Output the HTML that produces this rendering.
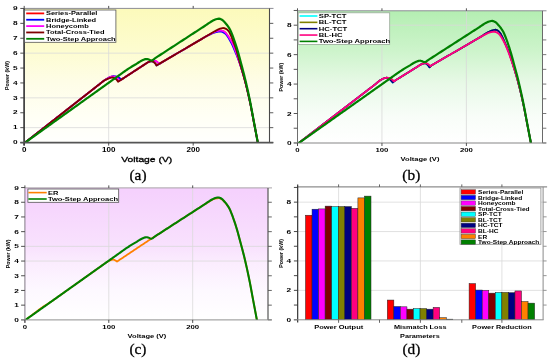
<!DOCTYPE html>
<html><head><meta charset="utf-8"><title>PV array configurations</title>
<style>html,body{margin:0;padding:0;background:#fff;width:550px;height:362px;overflow:hidden}svg{display:block;filter:blur(0.3px)}</style>
</head><body>
<svg width="550" height="362" viewBox="0 0 550 362"><defs><linearGradient id="ga" x1="0" y1="0" x2="0" y2="1"><stop offset="0" stop-color="#fcfabb"/><stop offset="0.3" stop-color="#fdfccf"/><stop offset="0.55" stop-color="#fefde7"/><stop offset="0.8" stop-color="#fffff5"/><stop offset="1" stop-color="#fffffd"/></linearGradient><clipPath id="cpa"><rect x="24.1" y="8.4" width="245.4" height="134.2"/></clipPath><linearGradient id="gb" x1="0" y1="0" x2="0" y2="1"><stop offset="0" stop-color="#b4eeb2"/><stop offset="0.3" stop-color="#cdf4cb"/><stop offset="0.55" stop-color="#e8f9e7"/><stop offset="0.8" stop-color="#f8fdf8"/><stop offset="1" stop-color="#ffffff"/></linearGradient><clipPath id="cpb"><rect x="297.5" y="10.8" width="245" height="132.2"/></clipPath><linearGradient id="gc" x1="0" y1="0" x2="0" y2="1"><stop offset="0" stop-color="#f5d0fd"/><stop offset="0.44" stop-color="#f8e1fd"/><stop offset="0.56" stop-color="#fbecfe"/><stop offset="0.77" stop-color="#fdf8ff"/><stop offset="1" stop-color="#ffffff"/></linearGradient><clipPath id="cpc"><rect x="24.9" y="187.9" width="243.1" height="132"/></clipPath><clipPath id="cpd"><rect x="297.7" y="186.9" width="245.4" height="132.9"/></clipPath></defs><rect width="550" height="362" fill="#ffffff"/><rect x="24.1" y="8.4" width="245.4" height="134.2" fill="url(#ga)"/>
<line x1="108.7" y1="8.4" x2="108.7" y2="142.6" stroke="#d9d9d9" stroke-width="0.8"/>
<line x1="24.1" y1="127.65" x2="269.5" y2="127.65" stroke="#d9d9d9" stroke-width="0.8"/>
<line x1="24.1" y1="97.85" x2="269.5" y2="97.85" stroke="#d9d9d9" stroke-width="0.8"/>
<line x1="24.1" y1="53.15" x2="269.5" y2="53.15" stroke="#d9d9d9" stroke-width="0.8"/>
<path d="M24.2,143.25 L25.3,142.38 L26.41,141.52 L27.51,140.65 L28.61,139.79 L29.72,138.92 L30.82,138.06 L31.92,137.19 L33.03,136.32 L34.13,135.46 L35.23,134.59 L36.34,133.73 L37.44,132.86 L38.54,132 L39.64,131.13 L40.75,130.27 L41.85,129.4 L42.95,128.53 L44.06,127.67 L45.16,126.8 L46.26,125.94 L47.37,125.07 L48.47,124.21 L49.57,123.34 L50.68,122.47 L51.78,121.61 L52.88,120.74 L53.99,119.88 L55.09,119.01 L56.19,118.15 L57.3,117.28 L58.4,116.41 L59.5,115.55 L60.61,114.68 L61.71,113.82 L62.81,112.95 L63.91,112.09 L65.02,111.22 L66.12,110.36 L67.22,109.49 L68.33,108.62 L69.43,107.76 L70.53,106.89 L71.64,106.03 L72.74,105.16 L73.84,104.3 L74.95,103.43 L76.05,102.56 L77.15,101.7 L78.26,100.83 L79.36,99.97 L80.46,99.1 L81.57,98.24 L82.67,97.37 L83.77,96.5 L84.88,95.64 L85.98,94.77 L87.08,93.91 L88.19,93.04 L89.29,92.18 L90.39,91.31 L91.49,90.45 L92.6,89.58 L93.7,88.71 L94.8,87.85 L95.91,86.98 L97.01,86.12 L98.11,85.25 L99.22,84.39 L100.32,83.52 L101.42,82.64 L102.53,81.75 L103.63,80.92 L104.47,80.34 L105.32,79.77 L106.17,79.24 L107.01,78.73 L107.86,78.25 L108.7,77.79 L109.55,77.39 L110.56,76.94 L111.57,76.65 L112.67,76.54 L113.77,76.5 L114.74,76.64 L115.71,76.95 L116.64,77.45 L117.57,78.29 L118.29,79.44 L119.01,81.12 L119.77,80.62 L120.53,80.12 L121.38,79.57 L122.22,79.02 L123.06,78.47 L123.91,77.92 L124.75,77.37 L125.6,76.82 L126.44,76.27 L127.29,75.72 L128.13,75.17 L128.98,74.62 L129.82,74.07 L130.67,73.52 L131.51,72.97 L132.36,72.42 L133.2,71.87 L134.05,71.32 L134.89,70.77 L135.74,70.22 L136.58,69.67 L137.43,69.12 L138.28,68.57 L139.12,68.02 L139.97,67.47 L140.81,66.92 L141.66,66.37 L142.5,65.82 L143.34,65.27 L144.19,64.72 L145.03,64.16 L145.88,63.59 L146.72,63.04 L147.57,62.52 L148.56,61.95 L149.54,61.41 L150.53,61 L151.43,60.72 L152.33,60.5 L153.23,60.41 L154.41,60.6 L155.6,61 L156.65,61.55 L157.71,62.34 L158.47,63.13 L159.23,64.13 L160.16,63.44 L161.09,62.79 L161.93,62.27 L162.78,61.77 L163.62,61.29 L164.47,60.81 L165.31,60.31 L166.16,59.82 L167,59.32 L167.85,58.82 L168.69,58.33 L169.54,57.83 L170.38,57.33 L171.23,56.84 L172.07,56.34 L172.92,55.85 L173.76,55.35 L174.61,54.85 L175.45,54.36 L176.3,53.86 L177.14,53.37 L177.99,52.87 L178.83,52.37 L179.68,51.88 L180.52,51.38 L181.37,50.88 L182.21,50.39 L183.06,49.89 L183.9,49.4 L184.75,48.9 L185.59,48.4 L186.44,47.91 L187.28,47.41 L188.13,46.92 L188.97,46.42 L189.82,45.92 L190.66,45.43 L191.51,44.93 L192.35,44.43 L193.2,43.94 L194.04,43.44 L194.89,42.95 L195.73,42.45 L196.58,41.95 L197.42,41.46 L198.27,40.96 L199.11,40.47 L199.96,39.97 L200.8,39.47 L201.65,38.98 L202.49,38.48 L203.34,37.98 L204.18,37.48 L205.03,36.99 L205.87,36.51 L206.72,36.03 L207.56,35.56 L208.41,35.09 L209.25,34.63 L210.1,34.18 L210.94,33.74 L211.79,33.3 L212.63,32.87 L213.48,32.46 L214.32,32.1 L215.17,31.74 L216.01,31.38 L216.86,31.09 L217.7,30.9 L218.66,30.79 L219.61,30.69 L220.56,30.63 L221.51,30.61 L222.49,30.79 L223.48,31.23 L224.46,31.8 L225.31,32.48 L226.15,33.43 L227,34.48 L227.84,35.64 L228.69,36.96 L229.53,38.35 L230.52,40.02 L231.51,41.78 L232.49,43.72 L233.48,45.91 L234.46,48.32 L235.45,50.87 L236.29,53.15 L237.14,55.54 L237.98,58.02 L238.83,60.56 L239.73,63.3 L240.63,66.08 L241.53,68.94 L242.44,71.88 L243.34,74.94 L244.24,78.14 L245.14,81.5 L246.04,85.01 L246.94,88.67 L247.84,92.47 L248.74,96.41 L249.65,100.49 L250.52,104.68 L251.4,109.13 L252.28,113.73 L253.16,118.39 L254.04,122.99 L255.01,128.02 L255.98,133.07 L256.96,138.15 L257.93,143.25" fill="none" stroke="#ff0000" stroke-width="1.7" stroke-linejoin="round" stroke-linecap="round" clip-path="url(#cpa)"/>
<path d="M24.2,143.25 L25.3,142.38 L26.41,141.52 L27.51,140.65 L28.61,139.79 L29.72,138.92 L30.82,138.06 L31.92,137.19 L33.03,136.32 L34.13,135.46 L35.23,134.59 L36.34,133.73 L37.44,132.86 L38.54,132 L39.64,131.13 L40.75,130.27 L41.85,129.4 L42.95,128.53 L44.06,127.67 L45.16,126.8 L46.26,125.94 L47.37,125.07 L48.47,124.21 L49.57,123.34 L50.68,122.47 L51.78,121.61 L52.88,120.74 L53.99,119.88 L55.09,119.01 L56.19,118.15 L57.3,117.28 L58.4,116.41 L59.5,115.55 L60.61,114.68 L61.71,113.82 L62.81,112.95 L63.91,112.09 L65.02,111.22 L66.12,110.36 L67.22,109.49 L68.33,108.62 L69.43,107.76 L70.53,106.89 L71.64,106.03 L72.74,105.16 L73.84,104.3 L74.95,103.43 L76.05,102.56 L77.15,101.7 L78.26,100.83 L79.36,99.97 L80.46,99.1 L81.57,98.24 L82.67,97.37 L83.77,96.5 L84.88,95.64 L85.98,94.77 L87.08,93.91 L88.19,93.04 L89.29,92.18 L90.39,91.31 L91.49,90.45 L92.6,89.58 L93.7,88.71 L94.8,87.85 L95.91,86.98 L97.01,86.12 L98.11,85.25 L99.22,84.39 L100.32,83.52 L101.42,82.64 L102.53,81.75 L103.63,80.92 L104.47,80.34 L105.32,79.77 L106.17,79.24 L107.01,78.73 L107.86,78.25 L108.7,77.79 L109.55,77.39 L110.56,76.98 L111.57,76.65 L112.59,76.35 L113.6,76.2 L114.5,76.27 L115.4,76.44 L116.31,76.65 L117.15,76.87 L118,77.17 L118.84,77.54 L119.6,78.02 L120.36,78.58 L120.95,79.02 L121.54,79.48 L122.3,78.97 L123.06,78.47 L123.94,77.9 L124.82,77.33 L125.69,76.76 L126.57,76.19 L127.44,75.62 L128.32,75.05 L129.19,74.48 L130.07,73.91 L130.94,73.34 L131.82,72.77 L132.69,72.21 L133.57,71.64 L134.44,71.07 L135.32,70.5 L136.19,69.93 L137.07,69.36 L137.94,68.79 L138.82,68.22 L139.69,67.65 L140.57,67.08 L141.44,66.51 L142.32,65.94 L143.19,65.37 L144.07,64.8 L144.94,64.21 L145.82,63.6 L146.69,63.03 L147.57,62.52 L148.63,61.98 L149.68,61.6 L150.82,61.39 L151.96,61.3 L152.94,61.59 L153.91,62.19 L154.63,62.76 L155.34,63.54 L155.94,64.39 L156.53,65.47 L157.39,64.96 L158.26,64.45 L159.13,63.95 L159.99,63.44 L160.86,62.93 L161.72,62.42 L162.59,61.91 L163.46,61.4 L164.32,60.89 L165.19,60.39 L166.05,59.88 L166.92,59.37 L167.79,58.86 L168.65,58.35 L169.52,57.84 L170.38,57.33 L171.25,56.83 L172.12,56.32 L172.98,55.81 L173.85,55.3 L174.72,54.79 L175.58,54.28 L176.45,53.77 L177.31,53.27 L178.18,52.76 L179.05,52.25 L179.91,51.74 L180.78,51.23 L181.64,50.72 L182.51,50.21 L183.38,49.71 L184.24,49.2 L185.11,48.69 L185.98,48.18 L186.84,47.67 L187.71,47.16 L188.57,46.65 L189.44,46.15 L190.31,45.64 L191.17,45.13 L192.04,44.62 L192.9,44.11 L193.77,43.6 L194.64,43.09 L195.5,42.59 L196.37,42.08 L197.23,41.57 L198.1,41.06 L198.97,40.55 L199.83,40.04 L200.7,39.53 L201.57,39.03 L202.43,38.51 L203.3,37.99 L204.16,37.48 L205.03,36.99 L205.87,36.54 L206.72,36.11 L207.56,35.68 L208.41,35.27 L209.25,34.87 L210.1,34.48 L210.94,34.09 L211.79,33.7 L212.63,33.33 L213.48,32.99 L214.32,32.69 L215.17,32.41 L216.01,32.15 L216.86,31.93 L217.7,31.8 L218.55,31.72 L219.39,31.67 L220.24,31.65 L221.23,31.76 L222.21,32.03 L223.2,32.39 L224.13,32.89 L225.06,33.61 L225.99,34.48 L226.89,35.56 L227.79,36.91 L228.69,38.35 L229.68,40 L230.66,41.79 L231.65,43.72 L232.49,45.51 L233.34,47.43 L234.18,49.44 L235.03,51.47 L235.98,53.74 L236.93,56.05 L237.88,58.45 L238.83,61 L239.73,63.56 L240.63,66.24 L241.53,69.02 L242.44,71.93 L243.34,74.97 L244.24,78.14 L245.14,81.46 L246.04,84.97 L246.94,88.63 L247.84,92.45 L248.74,96.41 L249.65,100.49 L250.52,104.68 L251.4,109.13 L252.28,113.73 L253.16,118.39 L254.04,122.99 L255.01,128.02 L255.98,133.07 L256.96,138.15 L257.93,143.25" fill="none" stroke="#0000ff" stroke-width="1.7" stroke-linejoin="round" stroke-linecap="round" clip-path="url(#cpa)"/>
<path d="M24.2,143.25 L25.3,142.38 L26.41,141.52 L27.51,140.65 L28.61,139.79 L29.72,138.92 L30.82,138.06 L31.92,137.19 L33.03,136.32 L34.13,135.46 L35.23,134.59 L36.34,133.73 L37.44,132.86 L38.54,132 L39.64,131.13 L40.75,130.27 L41.85,129.4 L42.95,128.53 L44.06,127.67 L45.16,126.8 L46.26,125.94 L47.37,125.07 L48.47,124.21 L49.57,123.34 L50.68,122.47 L51.78,121.61 L52.88,120.74 L53.99,119.88 L55.09,119.01 L56.19,118.15 L57.3,117.28 L58.4,116.41 L59.5,115.55 L60.61,114.68 L61.71,113.82 L62.81,112.95 L63.91,112.09 L65.02,111.22 L66.12,110.36 L67.22,109.49 L68.33,108.62 L69.43,107.76 L70.53,106.89 L71.64,106.03 L72.74,105.16 L73.84,104.3 L74.95,103.43 L76.05,102.56 L77.15,101.7 L78.26,100.83 L79.36,99.97 L80.46,99.1 L81.57,98.24 L82.67,97.37 L83.77,96.5 L84.88,95.64 L85.98,94.77 L87.08,93.91 L88.19,93.04 L89.29,92.18 L90.39,91.31 L91.49,90.45 L92.6,89.58 L93.7,88.71 L94.8,87.85 L95.91,86.98 L97.01,86.12 L98.11,85.25 L99.22,84.39 L100.32,83.52 L101.42,82.64 L102.53,81.75 L103.63,80.92 L104.47,80.34 L105.32,79.77 L106.17,79.24 L107.01,78.73 L107.86,78.25 L108.7,77.79 L109.55,77.39 L110.56,76.94 L111.57,76.65 L112.67,76.54 L113.77,76.5 L114.74,76.64 L115.71,76.95 L116.64,77.45 L117.57,78.29 L118.29,79.44 L119.01,81.12 L119.77,80.62 L120.53,80.12 L121.38,79.57 L122.22,79.02 L123.06,78.47 L123.91,77.92 L124.75,77.37 L125.6,76.82 L126.44,76.27 L127.29,75.72 L128.13,75.17 L128.98,74.62 L129.82,74.07 L130.67,73.52 L131.51,72.97 L132.36,72.42 L133.2,71.87 L134.05,71.32 L134.89,70.77 L135.74,70.22 L136.58,69.67 L137.43,69.12 L138.28,68.57 L139.12,68.02 L139.97,67.47 L140.81,66.92 L141.66,66.37 L142.5,65.82 L143.34,65.27 L144.19,64.72 L145.03,64.16 L145.88,63.59 L146.72,63.04 L147.57,62.52 L148.56,61.95 L149.54,61.41 L150.53,61 L151.43,60.72 L152.33,60.5 L153.23,60.41 L154.41,60.6 L155.6,61 L156.65,61.55 L157.71,62.34 L158.47,63.13 L159.23,64.13 L160.16,63.44 L161.09,62.79 L161.93,62.27 L162.78,61.77 L163.62,61.29 L164.47,60.81 L165.31,60.31 L166.16,59.82 L167,59.32 L167.85,58.82 L168.69,58.33 L169.54,57.83 L170.38,57.33 L171.23,56.84 L172.07,56.34 L172.92,55.85 L173.76,55.35 L174.61,54.85 L175.45,54.36 L176.3,53.86 L177.14,53.37 L177.99,52.87 L178.83,52.37 L179.68,51.88 L180.52,51.38 L181.37,50.88 L182.21,50.39 L183.06,49.89 L183.9,49.4 L184.75,48.9 L185.59,48.4 L186.44,47.91 L187.28,47.41 L188.13,46.92 L188.97,46.42 L189.82,45.92 L190.66,45.43 L191.51,44.93 L192.35,44.43 L193.2,43.94 L194.04,43.44 L194.89,42.95 L195.73,42.45 L196.58,41.95 L197.42,41.46 L198.27,40.96 L199.11,40.47 L199.96,39.97 L200.8,39.47 L201.65,38.98 L202.49,38.48 L203.34,37.98 L204.18,37.48 L205.03,36.99 L205.87,36.51 L206.72,36.03 L207.56,35.56 L208.41,35.09 L209.25,34.63 L210.1,34.18 L210.94,33.74 L211.79,33.3 L212.63,32.87 L213.48,32.46 L214.32,32.1 L215.17,31.74 L216.01,31.38 L216.86,31.09 L217.7,30.9 L218.66,30.79 L219.61,30.69 L220.56,30.63 L221.51,30.61 L222.49,30.79 L223.48,31.23 L224.46,31.8 L225.31,32.48 L226.15,33.43 L227,34.48 L227.84,35.64 L228.69,36.96 L229.53,38.35 L230.52,40.02 L231.51,41.78 L232.49,43.72 L233.48,45.91 L234.46,48.32 L235.45,50.87 L236.29,53.15 L237.14,55.54 L237.98,58.02 L238.83,60.56 L239.73,63.3 L240.63,66.08 L241.53,68.94 L242.44,71.88 L243.34,74.94 L244.24,78.14 L245.14,81.5 L246.04,85.01 L246.94,88.67 L247.84,92.47 L248.74,96.41 L249.65,100.49 L250.52,104.68 L251.4,109.13 L252.28,113.73 L253.16,118.39 L254.04,122.99 L255.01,128.02 L255.98,133.07 L256.96,138.15 L257.93,143.25" fill="none" stroke="#ff00ff" stroke-width="1.7" stroke-linejoin="round" stroke-linecap="round" clip-path="url(#cpa)"/>
<path d="M24.2,143.25 L25.3,142.38 L26.41,141.52 L27.51,140.65 L28.61,139.79 L29.72,138.92 L30.82,138.06 L31.92,137.19 L33.03,136.32 L34.13,135.46 L35.23,134.59 L36.34,133.73 L37.44,132.86 L38.54,132 L39.64,131.13 L40.75,130.27 L41.85,129.4 L42.95,128.53 L44.06,127.67 L45.16,126.8 L46.26,125.94 L47.37,125.07 L48.47,124.21 L49.57,123.34 L50.68,122.47 L51.78,121.61 L52.88,120.74 L53.99,119.88 L55.09,119.01 L56.19,118.15 L57.3,117.28 L58.4,116.41 L59.5,115.55 L60.61,114.68 L61.71,113.82 L62.81,112.95 L63.91,112.09 L65.02,111.22 L66.12,110.36 L67.22,109.49 L68.33,108.62 L69.43,107.76 L70.53,106.89 L71.64,106.03 L72.74,105.16 L73.84,104.3 L74.95,103.43 L76.05,102.56 L77.15,101.7 L78.26,100.83 L79.36,99.97 L80.46,99.1 L81.57,98.24 L82.67,97.37 L83.77,96.5 L84.88,95.64 L85.98,94.77 L87.08,93.91 L88.19,93.04 L89.29,92.18 L90.39,91.31 L91.49,90.45 L92.6,89.58 L93.7,88.71 L94.8,87.85 L95.91,86.98 L97.01,86.12 L98.11,85.25 L99.22,84.39 L100.32,83.52 L101.42,82.61 L102.53,81.71 L103.63,80.92 L104.47,80.43 L105.32,79.98 L106.17,79.57 L107.01,79.18 L107.86,78.79 L108.7,78.43 L109.55,78.14 L110.47,77.87 L111.4,77.64 L112.33,77.54 L113.47,77.79 L114.61,78.29 L115.59,78.84 L116.56,79.63 L117.32,80.53 L118.08,81.71 L119.17,81 L120.26,80.29 L121.36,79.58 L122.45,78.87 L123.54,78.16 L124.63,77.45 L125.73,76.74 L126.82,76.03 L127.91,75.32 L129,74.61 L130.09,73.9 L131.19,73.18 L132.28,72.47 L133.37,71.76 L134.46,71.05 L135.56,70.34 L136.65,69.63 L137.74,68.92 L138.83,68.21 L139.92,67.5 L141.02,66.79 L142.11,66.08 L143.2,65.37 L144.29,64.66 L145.39,63.91 L146.48,63.17 L147.57,62.52 L148.63,61.98 L149.68,61.6 L150.82,61.39 L151.96,61.3 L152.94,61.59 L153.91,62.19 L154.63,62.76 L155.34,63.54 L155.94,64.39 L156.53,65.47 L157.39,64.96 L158.26,64.46 L159.12,63.95 L159.99,63.44 L160.85,62.93 L161.72,62.43 L162.58,61.92 L163.44,61.41 L164.31,60.9 L165.17,60.39 L166.04,59.89 L166.9,59.38 L167.77,58.87 L168.63,58.36 L169.5,57.86 L170.36,57.35 L171.23,56.84 L172.09,56.33 L172.96,55.82 L173.82,55.32 L174.69,54.81 L175.55,54.3 L176.42,53.79 L177.28,53.29 L178.14,52.78 L179.01,52.27 L179.87,51.76 L180.74,51.26 L181.6,50.75 L182.47,50.24 L183.33,49.73 L184.2,49.22 L185.06,48.72 L185.93,48.21 L186.79,47.7 L187.66,47.19 L188.52,46.69 L189.39,46.18 L190.25,45.67 L191.12,45.16 L191.98,44.65 L192.85,44.15 L193.71,43.64 L194.57,43.13 L195.44,42.62 L196.3,42.12 L197.17,41.61 L198.03,41.1 L198.9,40.59 L199.76,40.08 L200.63,39.58 L201.49,39.07 L202.36,38.56 L203.22,38.05 L204.09,37.55 L204.95,37.04 L205.82,36.53 L206.68,36.02 L207.55,35.52 L208.41,35.01 L209.25,34.5 L210.1,33.99 L210.94,33.49 L211.79,32.99 L212.63,32.5 L213.48,32.01 L214.32,31.52 L215.17,31.04 L216.01,30.59 L216.86,30.16 L217.7,29.73 L218.55,29.32 L219.39,28.95 L220.24,28.67 L221.34,28.39 L222.44,28.17 L223.54,28.07 L224.41,28.21 L225.28,28.55 L226.15,28.97 L227.38,29.8 L228.61,31.05 L229.7,32.87 L230.8,35.23 L231.82,37.65 L232.83,40.29 L233.72,42.58 L234.6,44.89 L235.49,47.33 L236.38,49.98 L237.45,53.66 L238.52,57.73 L239.59,61.75 L240.52,65.03 L241.45,68.23 L242.38,71.43 L243.31,74.71 L244.24,78.14 L245.14,81.6 L246.04,85.14 L246.94,88.78 L247.84,92.54 L248.74,96.43 L249.65,100.49 L250.52,104.68 L251.4,109.13 L252.28,113.73 L253.16,118.39 L254.04,122.99 L255.01,128.02 L255.98,133.07 L256.96,138.15 L257.93,143.25" fill="none" stroke="#800000" stroke-width="1.9" stroke-linejoin="round" stroke-linecap="round" clip-path="url(#cpa)"/>
<path d="M24.2,143.25 L25.04,142.65 L25.89,142.04 L26.73,141.44 L27.58,140.83 L28.42,140.23 L29.27,139.62 L30.11,139.02 L30.96,138.41 L31.8,137.81 L32.65,137.2 L33.49,136.6 L34.34,135.99 L35.19,135.39 L36.03,134.78 L36.88,134.18 L37.72,133.57 L38.56,132.97 L39.41,132.36 L40.25,131.76 L41.1,131.15 L41.95,130.55 L42.79,129.94 L43.63,129.34 L44.48,128.73 L45.33,128.13 L46.17,127.52 L47.02,126.92 L47.86,126.31 L48.7,125.71 L49.55,125.1 L50.39,124.5 L51.24,123.89 L52.08,123.29 L52.93,122.68 L53.77,122.08 L54.62,121.47 L55.47,120.87 L56.31,120.26 L57.16,119.66 L58,119.05 L58.84,118.45 L59.69,117.84 L60.53,117.24 L61.38,116.63 L62.22,116.03 L63.07,115.42 L63.91,114.82 L64.76,114.21 L65.61,113.61 L66.45,113 L67.3,112.4 L68.14,111.79 L68.98,111.19 L69.83,110.58 L70.67,109.98 L71.52,109.37 L72.36,108.77 L73.21,108.16 L74.05,107.56 L74.9,106.95 L75.75,106.35 L76.59,105.74 L77.44,105.14 L78.28,104.53 L79.12,103.93 L79.97,103.32 L80.81,102.72 L81.66,102.11 L82.5,101.51 L83.35,100.9 L84.19,100.3 L85.04,99.69 L85.88,99.09 L86.73,98.48 L87.58,97.88 L88.42,97.27 L89.27,96.67 L90.11,96.06 L90.95,95.46 L91.8,94.85 L92.64,94.25 L93.49,93.64 L94.33,93.04 L95.18,92.44 L96.03,91.83 L96.87,91.23 L97.72,90.62 L98.56,90.02 L99.41,89.41 L100.25,88.81 L101.09,88.2 L101.94,87.6 L102.78,86.99 L103.63,86.39 L104.47,85.78 L105.32,85.18 L106.17,84.57 L107.01,83.97 L107.86,83.36 L108.7,82.76 L109.55,82.15 L110.39,81.55 L111.23,80.94 L112.08,80.34 L112.92,79.73 L113.77,79.13 L114.61,78.52 L115.46,77.92 L116.31,77.31 L117.15,76.71 L118,76.1 L118.84,75.5 L119.69,74.89 L120.53,74.29 L121.38,73.68 L122.22,73.08 L123.06,72.47 L123.91,71.86 L124.75,71.25 L125.6,70.66 L126.44,70.08 L127.29,69.51 L128.13,68.95 L128.98,68.4 L129.82,67.86 L130.67,67.32 L131.51,66.8 L132.36,66.28 L133.2,65.77 L134.09,65.25 L134.98,64.73 L135.87,64.22 L136.75,63.68 L137.82,62.98 L138.89,62.26 L139.97,61.6 L140.95,61.06 L141.94,60.56 L142.92,60.11 L143.77,59.72 L144.61,59.36 L145.46,59.14 L146.3,59.04 L147.15,58.99 L148.2,59.23 L149.26,59.66 L150.4,60.21 L151.54,60.56 L152.66,60.15 L153.77,59.27 L154.88,58.38 L156,57.65 L157.11,56.93 L158.23,56.2 L159.34,55.48 L160.46,54.75 L161.57,54.03 L162.68,53.3 L163.8,52.58 L164.91,51.85 L166.03,51.13 L167.14,50.4 L168.26,49.68 L169.37,48.95 L170.49,48.23 L171.6,47.5 L172.71,46.78 L173.83,46.05 L174.94,45.33 L176.06,44.6 L177.17,43.88 L178.29,43.15 L179.4,42.43 L180.51,41.7 L181.63,40.98 L182.74,40.25 L183.86,39.53 L184.97,38.8 L186.09,38.08 L187.2,37.35 L188.31,36.63 L189.43,35.9 L190.54,35.18 L191.66,34.45 L192.77,33.73 L193.89,33 L195,32.28 L196.12,31.55 L197.23,30.83 L198.34,30.1 L199.46,29.38 L200.57,28.65 L201.69,27.93 L202.8,27.21 L203.92,26.49 L205.03,25.75 L205.87,25.18 L206.72,24.59 L207.56,24 L208.41,23.42 L209.25,22.86 L210.1,22.31 L210.94,21.76 L211.79,21.24 L212.63,20.77 L213.48,20.34 L214.32,19.93 L215.17,19.56 L216.01,19.28 L217,19.01 L217.99,18.78 L218.97,18.69 L219.96,18.84 L220.94,19.23 L221.93,19.73 L222.77,20.31 L223.62,21.12 L224.46,22.06 L225.31,23.01 L226.15,23.96 L227,25 L227.84,26.14 L229.03,27.91 L230.21,30.01 L231.22,32.2 L232.24,34.72 L233.25,37.46 L234.27,40.29 L235.15,42.85 L236.04,45.54 L236.93,48.37 L237.82,51.32 L238.72,54.51 L239.62,57.89 L240.52,61.3 L241.4,64.58 L242.28,67.86 L243.16,71.18 L244.04,74.59 L244.91,78.14 L245.91,82.32 L246.91,86.63 L247.91,91.09 L248.9,95.71 L249.9,100.49 L250.74,104.75 L251.59,109.21 L252.43,113.8 L253.28,118.42 L254.12,122.99 L255.08,128.05 L256.03,133.12 L256.98,138.18 L257.93,143.25" fill="none" stroke="#008000" stroke-width="2.2" stroke-linejoin="round" stroke-linecap="round" clip-path="url(#cpa)"/>
<line x1="24.1" y1="8.4" x2="273.5" y2="8.4" stroke="#8c8c94" stroke-width="1"/>
<line x1="269.5" y1="8.4" x2="269.5" y2="142.6" stroke="#4a4a4a" stroke-width="1.1"/>
<line x1="269.5" y1="142.55" x2="273.3" y2="142.55" stroke="#4a4a4a" stroke-width="0.9"/>
<line x1="269.5" y1="127.65" x2="273.3" y2="127.65" stroke="#4a4a4a" stroke-width="0.9"/>
<line x1="269.5" y1="112.75" x2="273.3" y2="112.75" stroke="#4a4a4a" stroke-width="0.9"/>
<line x1="269.5" y1="97.85" x2="273.3" y2="97.85" stroke="#4a4a4a" stroke-width="0.9"/>
<line x1="269.5" y1="82.95" x2="273.3" y2="82.95" stroke="#4a4a4a" stroke-width="0.9"/>
<line x1="269.5" y1="68.05" x2="273.3" y2="68.05" stroke="#4a4a4a" stroke-width="0.9"/>
<line x1="269.5" y1="53.15" x2="273.3" y2="53.15" stroke="#4a4a4a" stroke-width="0.9"/>
<line x1="269.5" y1="38.25" x2="273.3" y2="38.25" stroke="#4a4a4a" stroke-width="0.9"/>
<line x1="269.5" y1="23.35" x2="273.3" y2="23.35" stroke="#4a4a4a" stroke-width="0.9"/>
<line x1="24.2" y1="5.9" x2="24.2" y2="8.4" stroke="#3c3c3c" stroke-width="0.9"/>
<line x1="108.7" y1="5.9" x2="108.7" y2="8.4" stroke="#3c3c3c" stroke-width="0.9"/>
<line x1="193.2" y1="5.9" x2="193.2" y2="8.4" stroke="#3c3c3c" stroke-width="0.9"/>
<line x1="24.1" y1="8.4" x2="24.1" y2="145.4" stroke="#3c3c3c" stroke-width="1.7"/>
<line x1="20.3" y1="142.55" x2="24.1" y2="142.55" stroke="#3c3c3c" stroke-width="0.9"/>
<line x1="20.3" y1="127.65" x2="24.1" y2="127.65" stroke="#3c3c3c" stroke-width="0.9"/>
<line x1="20.3" y1="112.75" x2="24.1" y2="112.75" stroke="#3c3c3c" stroke-width="0.9"/>
<line x1="20.3" y1="97.85" x2="24.1" y2="97.85" stroke="#3c3c3c" stroke-width="0.9"/>
<line x1="20.3" y1="82.95" x2="24.1" y2="82.95" stroke="#3c3c3c" stroke-width="0.9"/>
<line x1="20.3" y1="68.05" x2="24.1" y2="68.05" stroke="#3c3c3c" stroke-width="0.9"/>
<line x1="20.3" y1="53.15" x2="24.1" y2="53.15" stroke="#3c3c3c" stroke-width="0.9"/>
<line x1="20.3" y1="38.25" x2="24.1" y2="38.25" stroke="#3c3c3c" stroke-width="0.9"/>
<line x1="20.3" y1="23.35" x2="24.1" y2="23.35" stroke="#3c3c3c" stroke-width="0.9"/>
<line x1="20.3" y1="8.45" x2="24.1" y2="8.45" stroke="#3c3c3c" stroke-width="0.9"/>
<line x1="20.3" y1="142.6" x2="273.3" y2="142.6" stroke="#555555" stroke-width="1.6"/>
<line x1="24.2" y1="142.6" x2="24.2" y2="145.6" stroke="#3c3c3c" stroke-width="0.9"/>
<line x1="108.7" y1="142.6" x2="108.7" y2="145.6" stroke="#3c3c3c" stroke-width="0.9"/>
<line x1="193.2" y1="142.6" x2="193.2" y2="145.6" stroke="#3c3c3c" stroke-width="0.9"/>
<text transform="translate(15.2,144.25) scale(1.38,1)" font-size="6" font-weight="bold" text-anchor="middle" fill="#000" font-family="'Liberation Sans', Arial, sans-serif">0</text>
<text transform="translate(15.2,129.35) scale(1.38,1)" font-size="6" font-weight="bold" text-anchor="middle" fill="#000" font-family="'Liberation Sans', Arial, sans-serif">1</text>
<text transform="translate(15.2,114.45) scale(1.38,1)" font-size="6" font-weight="bold" text-anchor="middle" fill="#000" font-family="'Liberation Sans', Arial, sans-serif">2</text>
<text transform="translate(15.2,99.55) scale(1.38,1)" font-size="6" font-weight="bold" text-anchor="middle" fill="#000" font-family="'Liberation Sans', Arial, sans-serif">3</text>
<text transform="translate(15.2,84.65) scale(1.38,1)" font-size="6" font-weight="bold" text-anchor="middle" fill="#000" font-family="'Liberation Sans', Arial, sans-serif">4</text>
<text transform="translate(15.2,69.75) scale(1.38,1)" font-size="6" font-weight="bold" text-anchor="middle" fill="#000" font-family="'Liberation Sans', Arial, sans-serif">5</text>
<text transform="translate(15.2,54.85) scale(1.38,1)" font-size="6" font-weight="bold" text-anchor="middle" fill="#000" font-family="'Liberation Sans', Arial, sans-serif">6</text>
<text transform="translate(15.2,39.95) scale(1.38,1)" font-size="6" font-weight="bold" text-anchor="middle" fill="#000" font-family="'Liberation Sans', Arial, sans-serif">7</text>
<text transform="translate(15.2,25.05) scale(1.38,1)" font-size="6" font-weight="bold" text-anchor="middle" fill="#000" font-family="'Liberation Sans', Arial, sans-serif">8</text>
<text transform="translate(15.2,10.15) scale(1.38,1)" font-size="6" font-weight="bold" text-anchor="middle" fill="#000" font-family="'Liberation Sans', Arial, sans-serif">9</text>
<text transform="translate(24.2,152) scale(1.26,1)" font-size="6.4" font-weight="bold" text-anchor="middle" fill="#000" font-family="'Liberation Sans', Arial, sans-serif">0</text>
<text transform="translate(108.7,152) scale(1.26,1)" font-size="6.4" font-weight="bold" text-anchor="middle" fill="#000" font-family="'Liberation Sans', Arial, sans-serif">100</text>
<text transform="translate(193.2,152) scale(1.26,1)" font-size="6.4" font-weight="bold" text-anchor="middle" fill="#000" font-family="'Liberation Sans', Arial, sans-serif">200</text>
<text transform="translate(121.2,162.4) scale(1.34,1)" font-size="7.7" font-weight="normal" text-anchor="start" fill="#000" font-family="'Liberation Sans', Arial, sans-serif" stroke="#000" stroke-width="0.3">Voltage (V)</text>
<text transform="translate(8.8,75.5) rotate(-90)" font-size="5.3" font-weight="bold" text-anchor="middle" fill="#000" font-family="'Liberation Sans', Arial, sans-serif">Power (kW)</text>
<rect x="24.6" y="10" width="91.3" height="32.3" fill="#ffffff" stroke="#555" stroke-width="0.8"/>
<line x1="26.2" y1="13.4" x2="44.2" y2="13.4" stroke="#ff0000" stroke-width="1.8"/>
<text transform="translate(46,15.4) scale(1.36,1)" font-size="5.5" font-weight="bold" text-anchor="start" fill="#000" font-family="'Liberation Sans', Arial, sans-serif">Series-Parallel</text>
<line x1="26.2" y1="19.75" x2="44.2" y2="19.75" stroke="#0000ff" stroke-width="1.8"/>
<text transform="translate(46,21.75) scale(1.36,1)" font-size="5.5" font-weight="bold" text-anchor="start" fill="#000" font-family="'Liberation Sans', Arial, sans-serif">Bridge-Linked</text>
<line x1="26.2" y1="26.1" x2="44.2" y2="26.1" stroke="#ff00ff" stroke-width="1.8"/>
<text transform="translate(46,28.1) scale(1.36,1)" font-size="5.5" font-weight="bold" text-anchor="start" fill="#000" font-family="'Liberation Sans', Arial, sans-serif">Honeycomb</text>
<line x1="26.2" y1="32.45" x2="44.2" y2="32.45" stroke="#800000" stroke-width="1.8"/>
<text transform="translate(46,34.45) scale(1.36,1)" font-size="5.5" font-weight="bold" text-anchor="start" fill="#000" font-family="'Liberation Sans', Arial, sans-serif">Total-Cross-Tied</text>
<line x1="26.2" y1="38.8" x2="44.2" y2="38.8" stroke="#008000" stroke-width="1.8"/>
<text transform="translate(46,40.8) scale(1.36,1)" font-size="5.5" font-weight="bold" text-anchor="start" fill="#000" font-family="'Liberation Sans', Arial, sans-serif">Two-Step Approach</text>
<text transform="translate(138,180) scale(1.08,1)" font-size="14.2" font-weight="normal" text-anchor="middle" fill="#000" font-family="'Liberation Serif', 'Times New Roman', serif" stroke="#000" stroke-width="0.28">(a)</text>
<rect x="297.5" y="10.8" width="245" height="132.2" fill="url(#gb)"/>
<line x1="381.95" y1="10.8" x2="381.95" y2="143" stroke="#d9d9d9" stroke-width="0.8"/>
<line x1="466.4" y1="10.8" x2="466.4" y2="143" stroke="#d9d9d9" stroke-width="0.8"/>
<line x1="297.5" y1="25.19" x2="542.5" y2="25.19" stroke="#d9d9d9" stroke-width="0.8"/>
<path d="M297.5,143.95 L298.34,143.3 L299.19,142.65 L300.03,142.01 L300.88,141.36 L301.72,140.71 L302.57,140.06 L303.41,139.42 L304.26,138.77 L305.1,138.12 L305.94,137.47 L306.79,136.83 L307.63,136.18 L308.48,135.53 L309.32,134.88 L310.17,134.23 L311.01,133.59 L311.86,132.94 L312.7,132.29 L313.55,131.64 L314.39,131 L315.23,130.35 L316.08,129.7 L316.92,129.05 L317.77,128.41 L318.61,127.76 L319.46,127.11 L320.3,126.46 L321.15,125.81 L321.99,125.17 L322.83,124.52 L323.68,123.87 L324.52,123.22 L325.37,122.58 L326.21,121.93 L327.06,121.28 L327.9,120.63 L328.75,119.99 L329.59,119.34 L330.44,118.69 L331.28,118.04 L332.12,117.4 L332.97,116.75 L333.81,116.1 L334.66,115.45 L335.5,114.8 L336.35,114.16 L337.19,113.51 L338.04,112.86 L338.88,112.21 L339.73,111.57 L340.57,110.92 L341.41,110.27 L342.26,109.62 L343.1,108.98 L343.95,108.33 L344.79,107.68 L345.64,107.03 L346.48,106.38 L347.33,105.74 L348.17,105.09 L349.01,104.44 L349.86,103.79 L350.7,103.15 L351.55,102.5 L352.39,101.85 L353.24,101.2 L354.08,100.56 L354.93,99.91 L355.77,99.26 L356.62,98.61 L357.46,97.96 L358.3,97.32 L359.15,96.67 L359.99,96.02 L360.84,95.37 L361.68,94.73 L362.53,94.08 L363.37,93.43 L364.22,92.78 L365.06,92.14 L365.9,91.49 L366.75,90.84 L367.59,90.19 L368.44,89.54 L369.28,88.9 L370.13,88.25 L370.97,87.6 L371.82,86.95 L372.66,86.31 L373.5,85.67 L374.35,85.02 L375.19,84.36 L376.04,83.67 L376.88,82.93 L377.73,82.19 L378.57,81.46 L379.42,80.8 L380.26,80.21 L381.11,79.69 L381.95,79.2 L382.79,78.78 L383.64,78.45 L384.68,78.11 L385.72,77.83 L386.76,77.71 L387.86,78.06 L388.96,78.74 L389.89,79.46 L390.82,80.36 L391.75,81.38 L392.68,82.57 L393.6,81.77 L394.53,81.02 L395.46,80.34 L396.52,79.64 L397.57,79.01 L398.63,78.37 L399.68,77.71 L400.74,77.05 L401.8,76.4 L402.85,75.74 L403.91,75.08 L404.96,74.43 L406.02,73.77 L407.07,73.11 L408.13,72.46 L409.19,71.8 L410.24,71.14 L411.3,70.49 L412.35,69.83 L413.41,69.17 L414.46,68.52 L415.52,67.86 L416.57,67.2 L417.63,66.54 L418.69,65.85 L419.74,65.16 L420.8,64.57 L421.85,64.11 L422.91,63.73 L423.96,63.34 L425.02,63.14 L425.99,63.53 L426.96,64.31 L427.81,65.12 L428.65,66.17 L429.5,67.41 L430.4,66.51 L431.3,65.7 L432.2,65 L433.05,64.45 L433.9,63.96 L434.75,63.5 L435.61,63.02 L436.46,62.53 L437.31,62.04 L438.16,61.54 L439.01,61.05 L439.87,60.55 L440.72,60.06 L441.57,59.56 L442.42,59.07 L443.27,58.57 L444.13,58.08 L444.98,57.58 L445.83,57.09 L446.68,56.6 L447.53,56.1 L448.39,55.61 L449.24,55.11 L450.09,54.62 L450.94,54.12 L451.79,53.63 L452.65,53.13 L453.5,52.64 L454.35,52.14 L455.2,51.65 L456.05,51.16 L456.91,50.66 L457.76,50.17 L458.61,49.67 L459.46,49.18 L460.32,48.68 L461.17,48.19 L462.02,47.69 L462.87,47.2 L463.72,46.7 L464.58,46.21 L465.43,45.72 L466.28,45.22 L467.13,44.73 L467.98,44.23 L468.84,43.74 L469.69,43.24 L470.54,42.75 L471.39,42.25 L472.24,41.76 L473.1,41.26 L473.95,40.77 L474.8,40.28 L475.65,39.78 L476.5,39.29 L477.36,38.8 L478.21,38.31 L479.06,37.82 L479.91,37.31 L480.76,36.78 L481.6,36.23 L482.45,35.67 L483.29,35.12 L484.13,34.58 L484.98,34.05 L485.82,33.53 L486.67,33.01 L487.51,32.52 L488.36,32.08 L489.2,31.66 L490.05,31.26 L490.89,30.9 L491.74,30.61 L492.75,30.3 L493.76,30.02 L494.78,29.81 L495.79,29.72 L496.69,29.95 L497.59,30.51 L498.49,31.19 L499.34,31.99 L500.18,33.04 L501.02,34.29 L502.08,36.32 L503.14,38.7 L503.98,40.61 L504.82,42.59 L505.67,44.59 L506.51,46.55 L507.36,48.5 L508.2,50.52 L509.05,52.69 L509.89,55.07 L510.74,57.63 L511.58,60.3 L512.43,62.99 L513.42,66.16 L514.42,69.37 L515.41,72.66 L516.41,76.06 L517.41,79.62 L518.31,82.99 L519.21,86.47 L520.11,90.08 L521.01,93.81 L521.91,97.69 L522.81,101.7 L523.69,105.85 L524.57,110.24 L525.45,114.79 L526.33,119.39 L527.2,123.93 L528.18,128.9 L529.15,133.9 L530.12,138.91 L531.09,143.95" fill="none" stroke="#00ffff" stroke-width="1.7" stroke-linejoin="round" stroke-linecap="round" clip-path="url(#cpb)"/>
<path d="M297.5,143.95 L298.34,143.3 L299.19,142.65 L300.03,142.01 L300.88,141.36 L301.72,140.71 L302.57,140.06 L303.41,139.42 L304.26,138.77 L305.1,138.12 L305.94,137.47 L306.79,136.83 L307.63,136.18 L308.48,135.53 L309.32,134.88 L310.17,134.23 L311.01,133.59 L311.86,132.94 L312.7,132.29 L313.55,131.64 L314.39,131 L315.23,130.35 L316.08,129.7 L316.92,129.05 L317.77,128.41 L318.61,127.76 L319.46,127.11 L320.3,126.46 L321.15,125.81 L321.99,125.17 L322.83,124.52 L323.68,123.87 L324.52,123.22 L325.37,122.58 L326.21,121.93 L327.06,121.28 L327.9,120.63 L328.75,119.99 L329.59,119.34 L330.44,118.69 L331.28,118.04 L332.12,117.4 L332.97,116.75 L333.81,116.1 L334.66,115.45 L335.5,114.8 L336.35,114.16 L337.19,113.51 L338.04,112.86 L338.88,112.21 L339.73,111.57 L340.57,110.92 L341.41,110.27 L342.26,109.62 L343.1,108.98 L343.95,108.33 L344.79,107.68 L345.64,107.03 L346.48,106.38 L347.33,105.74 L348.17,105.09 L349.01,104.44 L349.86,103.79 L350.7,103.15 L351.55,102.5 L352.39,101.85 L353.24,101.2 L354.08,100.56 L354.93,99.91 L355.77,99.26 L356.62,98.61 L357.46,97.96 L358.3,97.32 L359.15,96.67 L359.99,96.02 L360.84,95.37 L361.68,94.73 L362.53,94.08 L363.37,93.43 L364.22,92.78 L365.06,92.14 L365.9,91.49 L366.75,90.84 L367.59,90.19 L368.44,89.54 L369.28,88.9 L370.13,88.25 L370.97,87.6 L371.82,86.95 L372.66,86.31 L373.5,85.67 L374.35,85.02 L375.19,84.36 L376.04,83.67 L376.88,82.93 L377.73,82.19 L378.57,81.46 L379.42,80.8 L380.26,80.21 L381.11,79.69 L381.95,79.2 L382.79,78.78 L383.64,78.45 L384.68,78.11 L385.72,77.83 L386.76,77.71 L387.69,77.8 L388.62,78.02 L389.55,78.3 L390.39,78.62 L391.24,79.07 L392.08,79.62 L392.93,80.39 L393.77,81.39 L394.62,80.86 L395.46,80.34 L396.31,79.81 L397.15,79.29 L398,78.76 L398.84,78.24 L399.68,77.71 L400.53,77.19 L401.37,76.66 L402.22,76.13 L403.06,75.61 L403.91,75.08 L404.75,74.56 L405.6,74.03 L406.44,73.51 L407.28,72.98 L408.13,72.46 L408.97,71.93 L409.82,71.41 L410.66,70.88 L411.51,70.35 L412.35,69.83 L413.2,69.3 L414.04,68.78 L414.89,68.25 L415.73,67.73 L416.57,67.2 L417.42,66.68 L418.26,66.13 L419.11,65.58 L419.95,65.05 L420.8,64.57 L421.64,64.12 L422.49,63.71 L423.33,63.43 L424.39,63.23 L425.44,63.14 L426.41,63.53 L427.38,64.31 L428.57,65.5 L429.75,67.11 L430.4,66.51 L431.3,65.7 L432.2,65 L433.05,64.45 L433.9,63.96 L434.75,63.5 L435.61,63.02 L436.46,62.53 L437.31,62.04 L438.16,61.54 L439.01,61.05 L439.87,60.55 L440.72,60.06 L441.57,59.56 L442.42,59.07 L443.27,58.57 L444.13,58.08 L444.98,57.58 L445.83,57.09 L446.68,56.6 L447.53,56.1 L448.39,55.61 L449.24,55.11 L450.09,54.62 L450.94,54.12 L451.79,53.63 L452.65,53.13 L453.5,52.64 L454.35,52.14 L455.2,51.65 L456.05,51.16 L456.91,50.66 L457.76,50.17 L458.61,49.67 L459.46,49.18 L460.32,48.68 L461.17,48.19 L462.02,47.69 L462.87,47.2 L463.72,46.7 L464.58,46.21 L465.43,45.72 L466.28,45.22 L467.13,44.73 L467.98,44.23 L468.84,43.74 L469.69,43.24 L470.54,42.75 L471.39,42.25 L472.24,41.76 L473.1,41.26 L473.95,40.77 L474.8,40.28 L475.65,39.78 L476.5,39.29 L477.36,38.8 L478.21,38.31 L479.06,37.82 L479.91,37.31 L480.76,36.78 L481.6,36.23 L482.45,35.67 L483.29,35.12 L484.13,34.58 L484.98,34.05 L485.82,33.53 L486.67,33.01 L487.51,32.52 L488.36,32.08 L489.2,31.66 L490.05,31.26 L490.89,30.9 L491.74,30.61 L492.75,30.3 L493.76,30.02 L494.78,29.81 L495.79,29.72 L496.69,29.95 L497.59,30.51 L498.49,31.19 L499.34,31.99 L500.18,33.04 L501.02,34.29 L502.08,36.32 L503.14,38.7 L503.98,40.61 L504.82,42.59 L505.67,44.59 L506.51,46.55 L507.36,48.5 L508.2,50.52 L509.05,52.69 L509.89,55.07 L510.74,57.63 L511.58,60.3 L512.43,62.99 L513.42,66.16 L514.42,69.37 L515.41,72.66 L516.41,76.06 L517.41,79.62 L518.31,82.99 L519.21,86.47 L520.11,90.08 L521.01,93.81 L521.91,97.69 L522.81,101.7 L523.69,105.85 L524.57,110.24 L525.45,114.79 L526.33,119.39 L527.2,123.93 L528.18,128.9 L529.15,133.9 L530.12,138.91 L531.09,143.95" fill="none" stroke="#808000" stroke-width="1.7" stroke-linejoin="round" stroke-linecap="round" clip-path="url(#cpb)"/>
<path d="M297.5,143.95 L298.34,143.3 L299.19,142.65 L300.03,142.01 L300.88,141.36 L301.72,140.71 L302.57,140.06 L303.41,139.42 L304.26,138.77 L305.1,138.12 L305.94,137.47 L306.79,136.83 L307.63,136.18 L308.48,135.53 L309.32,134.88 L310.17,134.23 L311.01,133.59 L311.86,132.94 L312.7,132.29 L313.55,131.64 L314.39,131 L315.23,130.35 L316.08,129.7 L316.92,129.05 L317.77,128.41 L318.61,127.76 L319.46,127.11 L320.3,126.46 L321.15,125.81 L321.99,125.17 L322.83,124.52 L323.68,123.87 L324.52,123.22 L325.37,122.58 L326.21,121.93 L327.06,121.28 L327.9,120.63 L328.75,119.99 L329.59,119.34 L330.44,118.69 L331.28,118.04 L332.12,117.4 L332.97,116.75 L333.81,116.1 L334.66,115.45 L335.5,114.8 L336.35,114.16 L337.19,113.51 L338.04,112.86 L338.88,112.21 L339.73,111.57 L340.57,110.92 L341.41,110.27 L342.26,109.62 L343.1,108.98 L343.95,108.33 L344.79,107.68 L345.64,107.03 L346.48,106.38 L347.33,105.74 L348.17,105.09 L349.01,104.44 L349.86,103.79 L350.7,103.15 L351.55,102.5 L352.39,101.85 L353.24,101.2 L354.08,100.56 L354.93,99.91 L355.77,99.26 L356.62,98.61 L357.46,97.96 L358.3,97.32 L359.15,96.67 L359.99,96.02 L360.84,95.37 L361.68,94.73 L362.53,94.08 L363.37,93.43 L364.22,92.78 L365.06,92.14 L365.9,91.49 L366.75,90.84 L367.59,90.19 L368.44,89.54 L369.28,88.9 L370.13,88.25 L370.97,87.6 L371.82,86.95 L372.66,86.31 L373.5,85.67 L374.35,85.02 L375.19,84.36 L376.04,83.67 L376.88,82.93 L377.73,82.19 L378.57,81.46 L379.42,80.8 L380.26,80.21 L381.11,79.69 L381.95,79.2 L382.79,78.78 L383.64,78.45 L384.68,78.11 L385.72,77.83 L386.76,77.71 L387.86,78.06 L388.96,78.74 L389.89,79.46 L390.82,80.36 L391.75,81.38 L392.68,82.57 L393.6,81.77 L394.53,81.02 L395.46,80.34 L396.52,79.64 L397.57,79.01 L398.63,78.37 L399.68,77.71 L400.74,77.05 L401.8,76.4 L402.85,75.74 L403.91,75.08 L404.96,74.43 L406.02,73.77 L407.07,73.11 L408.13,72.46 L409.19,71.8 L410.24,71.14 L411.3,70.49 L412.35,69.83 L413.41,69.17 L414.46,68.52 L415.52,67.86 L416.57,67.2 L417.63,66.54 L418.69,65.85 L419.74,65.16 L420.8,64.57 L421.85,64.11 L422.91,63.73 L423.96,63.34 L425.02,63.14 L425.99,63.53 L426.96,64.31 L427.81,65.12 L428.65,66.17 L429.5,67.41 L430.4,66.51 L431.3,65.7 L432.2,65 L433.05,64.45 L433.9,63.96 L434.75,63.5 L435.61,63.02 L436.46,62.53 L437.31,62.04 L438.16,61.54 L439.01,61.05 L439.87,60.55 L440.72,60.06 L441.57,59.56 L442.42,59.07 L443.27,58.57 L444.13,58.08 L444.98,57.58 L445.83,57.09 L446.68,56.6 L447.53,56.1 L448.39,55.61 L449.24,55.11 L450.09,54.62 L450.94,54.12 L451.79,53.63 L452.65,53.13 L453.5,52.64 L454.35,52.14 L455.2,51.65 L456.05,51.16 L456.91,50.66 L457.76,50.17 L458.61,49.67 L459.46,49.18 L460.32,48.68 L461.17,48.19 L462.02,47.69 L462.87,47.2 L463.72,46.7 L464.58,46.21 L465.43,45.72 L466.28,45.22 L467.13,44.73 L467.98,44.23 L468.84,43.74 L469.69,43.24 L470.54,42.75 L471.39,42.25 L472.24,41.76 L473.1,41.26 L473.95,40.77 L474.8,40.28 L475.65,39.78 L476.5,39.29 L477.36,38.8 L478.21,38.31 L479.06,37.82 L479.91,37.31 L480.76,36.78 L481.6,36.23 L482.45,35.67 L483.29,35.12 L484.13,34.58 L484.98,34.05 L485.82,33.53 L486.67,33.01 L487.51,32.52 L488.36,32.08 L489.2,31.66 L490.05,31.26 L490.89,30.9 L491.74,30.61 L492.75,30.3 L493.76,30.02 L494.78,29.81 L495.79,29.72 L496.69,29.95 L497.59,30.51 L498.49,31.19 L499.34,31.99 L500.18,33.04 L501.02,34.29 L502.08,36.32 L503.14,38.7 L503.98,40.61 L504.82,42.59 L505.67,44.59 L506.51,46.55 L507.36,48.5 L508.2,50.52 L509.05,52.69 L509.89,55.07 L510.74,57.63 L511.58,60.3 L512.43,62.99 L513.42,66.16 L514.42,69.37 L515.41,72.66 L516.41,76.06 L517.41,79.62 L518.31,82.99 L519.21,86.47 L520.11,90.08 L521.01,93.81 L521.91,97.69 L522.81,101.7 L523.69,105.85 L524.57,110.24 L525.45,114.79 L526.33,119.39 L527.2,123.93 L528.18,128.9 L529.15,133.9 L530.12,138.91 L531.09,143.95" fill="none" stroke="#000080" stroke-width="1.7" stroke-linejoin="round" stroke-linecap="round" clip-path="url(#cpb)"/>
<path d="M297.5,143.95 L298.34,143.3 L299.19,142.65 L300.03,142.01 L300.88,141.36 L301.72,140.71 L302.57,140.06 L303.41,139.42 L304.26,138.77 L305.1,138.12 L305.94,137.47 L306.79,136.83 L307.63,136.18 L308.48,135.53 L309.32,134.88 L310.17,134.23 L311.01,133.59 L311.86,132.94 L312.7,132.29 L313.55,131.64 L314.39,131 L315.23,130.35 L316.08,129.7 L316.92,129.05 L317.77,128.41 L318.61,127.76 L319.46,127.11 L320.3,126.46 L321.15,125.81 L321.99,125.17 L322.83,124.52 L323.68,123.87 L324.52,123.22 L325.37,122.58 L326.21,121.93 L327.06,121.28 L327.9,120.63 L328.75,119.99 L329.59,119.34 L330.44,118.69 L331.28,118.04 L332.12,117.4 L332.97,116.75 L333.81,116.1 L334.66,115.45 L335.5,114.8 L336.35,114.16 L337.19,113.51 L338.04,112.86 L338.88,112.21 L339.73,111.57 L340.57,110.92 L341.41,110.27 L342.26,109.62 L343.1,108.98 L343.95,108.33 L344.79,107.68 L345.64,107.03 L346.48,106.38 L347.33,105.74 L348.17,105.09 L349.01,104.44 L349.86,103.79 L350.7,103.15 L351.55,102.5 L352.39,101.85 L353.24,101.2 L354.08,100.56 L354.93,99.91 L355.77,99.26 L356.62,98.61 L357.46,97.96 L358.3,97.32 L359.15,96.67 L359.99,96.02 L360.84,95.37 L361.68,94.73 L362.53,94.08 L363.37,93.43 L364.22,92.78 L365.06,92.14 L365.9,91.49 L366.75,90.84 L367.59,90.19 L368.44,89.54 L369.28,88.9 L370.13,88.25 L370.97,87.6 L371.82,86.95 L372.66,86.31 L373.5,85.67 L374.35,85.02 L375.19,84.36 L376.04,83.67 L376.88,82.93 L377.73,82.19 L378.57,81.46 L379.42,80.8 L380.26,80.21 L381.11,79.69 L381.95,79.2 L382.79,78.78 L383.64,78.45 L384.68,78.11 L385.72,77.83 L386.76,77.71 L387.69,77.8 L388.62,78.02 L389.55,78.3 L390.39,78.62 L391.24,79.07 L392.08,79.62 L392.93,80.39 L393.77,81.39 L394.62,80.86 L395.46,80.34 L396.31,79.81 L397.15,79.29 L398,78.76 L398.84,78.24 L399.68,77.71 L400.53,77.19 L401.37,76.66 L402.22,76.13 L403.06,75.61 L403.91,75.08 L404.75,74.56 L405.6,74.03 L406.44,73.51 L407.28,72.98 L408.13,72.46 L408.97,71.93 L409.82,71.41 L410.66,70.88 L411.51,70.35 L412.35,69.83 L413.2,69.3 L414.04,68.78 L414.89,68.25 L415.73,67.73 L416.57,67.2 L417.42,66.68 L418.26,66.13 L419.11,65.56 L419.95,65.03 L420.8,64.57 L421.85,64.11 L422.91,63.73 L423.96,63.34 L425.02,63.14 L425.86,63.23 L426.71,63.43 L427.64,63.85 L428.57,64.46 L429.45,65.18 L430.34,66.08 L431.44,65.44 L432.54,64.8 L433.64,64.16 L434.75,63.52 L435.85,62.88 L436.95,62.24 L438.05,61.61 L439.15,60.97 L440.25,60.33 L441.36,59.69 L442.46,59.05 L443.56,58.41 L444.66,57.77 L445.76,57.13 L446.86,56.49 L447.97,55.85 L449.07,55.21 L450.17,54.57 L451.27,53.93 L452.37,53.29 L453.47,52.65 L454.58,52.01 L455.68,51.37 L456.78,50.74 L457.88,50.1 L458.98,49.46 L460.08,48.82 L461.18,48.18 L462.29,47.54 L463.39,46.9 L464.49,46.26 L465.59,45.62 L466.69,44.98 L467.79,44.34 L468.9,43.7 L470,43.06 L471.1,42.42 L472.2,41.78 L473.3,41.14 L474.4,40.5 L475.51,39.87 L476.61,39.23 L477.71,38.58 L478.81,37.94 L479.91,37.31 L480.76,36.84 L481.6,36.37 L482.45,35.91 L483.29,35.46 L484.13,35.02 L484.98,34.58 L485.82,34.14 L486.67,33.7 L487.51,33.31 L488.36,32.96 L489.2,32.64 L490.05,32.33 L490.89,32.07 L491.74,31.93 L492.66,31.86 L493.59,31.8 L494.52,31.78 L495.56,31.96 L496.6,32.4 L497.65,32.96 L498.49,33.59 L499.34,34.46 L500.18,35.46 L501.02,36.62 L501.87,37.98 L502.71,39.44 L503.7,41.25 L504.68,43.21 L505.67,45.33 L506.65,47.62 L507.64,50.1 L508.62,52.69 L509.47,54.96 L510.31,57.32 L511.16,59.75 L512,62.25 L512.9,64.97 L513.8,67.72 L514.71,70.53 L515.61,73.44 L516.51,76.46 L517.41,79.62 L518.31,82.94 L519.21,86.41 L520.11,90.03 L521.01,93.79 L521.91,97.68 L522.81,101.7 L523.69,105.85 L524.57,110.24 L525.45,114.79 L526.33,119.39 L527.2,123.93 L528.18,128.9 L529.15,133.9 L530.12,138.91 L531.09,143.95" fill="none" stroke="#ff0080" stroke-width="1.9" stroke-linejoin="round" stroke-linecap="round" clip-path="url(#cpb)"/>
<path d="M297.5,143.95 L298.34,143.35 L299.19,142.75 L300.03,142.16 L300.88,141.56 L301.72,140.96 L302.57,140.36 L303.41,139.77 L304.26,139.17 L305.1,138.57 L305.94,137.97 L306.79,137.38 L307.63,136.78 L308.48,136.18 L309.32,135.58 L310.17,134.99 L311.01,134.39 L311.86,133.79 L312.7,133.19 L313.55,132.59 L314.39,132 L315.23,131.4 L316.08,130.8 L316.92,130.2 L317.77,129.61 L318.61,129.01 L319.46,128.41 L320.3,127.81 L321.15,127.22 L321.99,126.62 L322.83,126.02 L323.68,125.42 L324.52,124.83 L325.37,124.23 L326.21,123.63 L327.06,123.03 L327.9,122.44 L328.75,121.84 L329.59,121.24 L330.44,120.64 L331.28,120.04 L332.12,119.45 L332.97,118.85 L333.81,118.25 L334.66,117.65 L335.5,117.06 L336.35,116.46 L337.19,115.86 L338.04,115.26 L338.88,114.67 L339.73,114.07 L340.57,113.47 L341.41,112.87 L342.26,112.28 L343.1,111.68 L343.95,111.08 L344.79,110.48 L345.64,109.88 L346.48,109.29 L347.33,108.69 L348.17,108.09 L349.01,107.49 L349.86,106.9 L350.7,106.3 L351.55,105.7 L352.39,105.1 L353.24,104.51 L354.08,103.91 L354.93,103.31 L355.77,102.71 L356.62,102.12 L357.46,101.52 L358.3,100.92 L359.15,100.32 L359.99,99.73 L360.84,99.13 L361.68,98.53 L362.53,97.93 L363.37,97.33 L364.22,96.74 L365.06,96.14 L365.9,95.54 L366.75,94.94 L367.59,94.35 L368.44,93.75 L369.28,93.15 L370.13,92.55 L370.97,91.96 L371.82,91.36 L372.66,90.76 L373.5,90.16 L374.35,89.57 L375.19,88.97 L376.04,88.37 L376.88,87.77 L377.73,87.17 L378.57,86.58 L379.42,85.98 L380.26,85.38 L381.11,84.78 L381.95,84.19 L382.79,83.59 L383.64,82.99 L384.48,82.39 L385.33,81.8 L386.17,81.2 L387.02,80.6 L387.86,80 L388.71,79.41 L389.55,78.81 L390.39,78.21 L391.24,77.61 L392.08,77.02 L392.93,76.42 L393.77,75.82 L394.62,75.22 L395.46,74.62 L396.31,74.02 L397.15,73.42 L398,72.82 L398.84,72.23 L399.68,71.66 L400.53,71.1 L401.37,70.55 L402.22,70 L403.06,69.47 L403.91,68.94 L404.75,68.42 L405.6,67.91 L406.44,67.41 L407.33,66.89 L408.21,66.38 L409.1,65.87 L409.99,65.35 L411.06,64.65 L412.13,63.94 L413.2,63.28 L414.18,62.75 L415.17,62.26 L416.15,61.81 L417,61.43 L417.84,61.07 L418.69,60.86 L419.53,60.75 L420.37,60.71 L421.43,60.95 L422.49,61.37 L423.63,61.91 L424.77,62.25 L425.88,61.86 L426.99,60.98 L428.11,60.11 L429.22,59.39 L430.33,58.67 L431.45,57.96 L432.56,57.24 L433.68,56.52 L434.79,55.81 L435.9,55.09 L437.02,54.37 L438.13,53.66 L439.24,52.94 L440.36,52.23 L441.47,51.51 L442.59,50.79 L443.7,50.08 L444.81,49.36 L445.93,48.64 L447.04,47.93 L448.15,47.21 L449.27,46.5 L450.38,45.78 L451.49,45.06 L452.61,44.35 L453.72,43.63 L454.84,42.91 L455.95,42.2 L457.06,41.48 L458.18,40.76 L459.29,40.05 L460.4,39.33 L461.52,38.62 L462.63,37.9 L463.75,37.18 L464.86,36.47 L465.97,35.75 L467.09,35.03 L468.2,34.32 L469.31,33.6 L470.43,32.89 L471.54,32.17 L472.65,31.45 L473.77,30.74 L474.88,30.02 L476,29.31 L477.11,28.6 L478.22,27.87 L479.07,27.3 L479.91,26.72 L480.76,26.14 L481.6,25.57 L482.45,25.01 L483.29,24.47 L484.13,23.93 L484.98,23.41 L485.82,22.95 L486.67,22.52 L487.51,22.12 L488.36,21.76 L489.2,21.48 L490.19,21.21 L491.17,20.98 L492.16,20.89 L493.14,21.05 L494.13,21.43 L495.11,21.92 L495.96,22.5 L496.8,23.3 L497.65,24.22 L498.49,25.16 L499.34,26.1 L500.18,27.13 L501.02,28.25 L502.21,30.01 L503.39,32.08 L504.4,34.24 L505.42,36.73 L506.43,39.44 L507.44,42.23 L508.33,44.76 L509.22,47.42 L510.1,50.22 L510.99,53.13 L511.89,56.28 L512.79,59.62 L513.69,62.99 L514.57,66.23 L515.45,69.47 L516.33,72.75 L517.21,76.12 L518.08,79.62 L519.08,83.75 L520.08,88.01 L521.07,92.42 L522.07,96.98 L523.07,101.7 L523.91,105.91 L524.75,110.33 L525.6,114.86 L526.44,119.42 L527.29,123.93 L528.24,128.93 L529.19,133.94 L530.14,138.94 L531.09,143.95" fill="none" stroke="#008000" stroke-width="2.2" stroke-linejoin="round" stroke-linecap="round" clip-path="url(#cpb)"/>
<line x1="297.5" y1="10.8" x2="546.5" y2="10.8" stroke="#8c8c94" stroke-width="1"/>
<line x1="542.5" y1="10.8" x2="542.5" y2="143" stroke="#6a6a6a" stroke-width="1"/>
<line x1="542.5" y1="142.95" x2="546.3" y2="142.95" stroke="#6a6a6a" stroke-width="0.9"/>
<line x1="542.5" y1="128.23" x2="546.3" y2="128.23" stroke="#6a6a6a" stroke-width="0.9"/>
<line x1="542.5" y1="113.51" x2="546.3" y2="113.51" stroke="#6a6a6a" stroke-width="0.9"/>
<line x1="542.5" y1="98.79" x2="546.3" y2="98.79" stroke="#6a6a6a" stroke-width="0.9"/>
<line x1="542.5" y1="84.07" x2="546.3" y2="84.07" stroke="#6a6a6a" stroke-width="0.9"/>
<line x1="542.5" y1="69.35" x2="546.3" y2="69.35" stroke="#6a6a6a" stroke-width="0.9"/>
<line x1="542.5" y1="54.63" x2="546.3" y2="54.63" stroke="#6a6a6a" stroke-width="0.9"/>
<line x1="542.5" y1="39.91" x2="546.3" y2="39.91" stroke="#6a6a6a" stroke-width="0.9"/>
<line x1="542.5" y1="25.19" x2="546.3" y2="25.19" stroke="#6a6a6a" stroke-width="0.9"/>
<line x1="297.5" y1="8.3" x2="297.5" y2="10.8" stroke="#444444" stroke-width="0.9"/>
<line x1="381.95" y1="8.3" x2="381.95" y2="10.8" stroke="#444444" stroke-width="0.9"/>
<line x1="466.4" y1="8.3" x2="466.4" y2="10.8" stroke="#444444" stroke-width="0.9"/>
<line x1="297.5" y1="10.8" x2="297.5" y2="145.8" stroke="#6e6e6e" stroke-width="1"/>
<line x1="293.7" y1="142.95" x2="297.5" y2="142.95" stroke="#444444" stroke-width="0.9"/>
<line x1="293.7" y1="128.23" x2="297.5" y2="128.23" stroke="#444444" stroke-width="0.9"/>
<line x1="293.7" y1="113.51" x2="297.5" y2="113.51" stroke="#444444" stroke-width="0.9"/>
<line x1="293.7" y1="98.79" x2="297.5" y2="98.79" stroke="#444444" stroke-width="0.9"/>
<line x1="293.7" y1="84.07" x2="297.5" y2="84.07" stroke="#444444" stroke-width="0.9"/>
<line x1="293.7" y1="69.35" x2="297.5" y2="69.35" stroke="#444444" stroke-width="0.9"/>
<line x1="293.7" y1="54.63" x2="297.5" y2="54.63" stroke="#444444" stroke-width="0.9"/>
<line x1="293.7" y1="39.91" x2="297.5" y2="39.91" stroke="#444444" stroke-width="0.9"/>
<line x1="293.7" y1="25.19" x2="297.5" y2="25.19" stroke="#444444" stroke-width="0.9"/>
<line x1="293.7" y1="10.47" x2="297.5" y2="10.47" stroke="#444444" stroke-width="0.9"/>
<line x1="293.7" y1="143" x2="546.3" y2="143" stroke="#858585" stroke-width="1"/>
<line x1="297.5" y1="143" x2="297.5" y2="146" stroke="#444444" stroke-width="0.9"/>
<line x1="381.95" y1="143" x2="381.95" y2="146" stroke="#444444" stroke-width="0.9"/>
<line x1="466.4" y1="143" x2="466.4" y2="146" stroke="#444444" stroke-width="0.9"/>
<text transform="translate(289.4,145.15) scale(1.38,1)" font-size="6" font-weight="bold" text-anchor="middle" fill="#000" font-family="'Liberation Sans', Arial, sans-serif">0</text>
<text transform="translate(289.4,115.71) scale(1.38,1)" font-size="6" font-weight="bold" text-anchor="middle" fill="#000" font-family="'Liberation Sans', Arial, sans-serif">2</text>
<text transform="translate(289.4,86.27) scale(1.38,1)" font-size="6" font-weight="bold" text-anchor="middle" fill="#000" font-family="'Liberation Sans', Arial, sans-serif">4</text>
<text transform="translate(289.4,56.83) scale(1.38,1)" font-size="6" font-weight="bold" text-anchor="middle" fill="#000" font-family="'Liberation Sans', Arial, sans-serif">6</text>
<text transform="translate(289.4,27.39) scale(1.38,1)" font-size="6" font-weight="bold" text-anchor="middle" fill="#000" font-family="'Liberation Sans', Arial, sans-serif">8</text>
<text transform="translate(297.5,151.9) scale(1.3,1)" font-size="6" font-weight="bold" text-anchor="middle" fill="#000" font-family="'Liberation Sans', Arial, sans-serif">0</text>
<text transform="translate(381.95,151.9) scale(1.3,1)" font-size="6" font-weight="bold" text-anchor="middle" fill="#000" font-family="'Liberation Sans', Arial, sans-serif">100</text>
<text transform="translate(466.4,151.9) scale(1.3,1)" font-size="6" font-weight="bold" text-anchor="middle" fill="#000" font-family="'Liberation Sans', Arial, sans-serif">200</text>
<text transform="translate(420,160.8) scale(1.3,1)" font-size="5.8" font-weight="bold" text-anchor="middle" fill="#000" font-family="'Liberation Sans', Arial, sans-serif">Voltage (V)</text>
<text transform="translate(283.4,77.2) rotate(-90)" font-size="5.3" font-weight="bold" text-anchor="middle" fill="#000" font-family="'Liberation Sans', Arial, sans-serif">Power (kW)</text>
<rect x="298.2" y="12.8" width="91.5" height="31.7" fill="#ffffff" stroke="#9aa89a" stroke-width="0.8"/>
<line x1="299.6" y1="16" x2="317.4" y2="16" stroke="#00ffff" stroke-width="1.6"/>
<text transform="translate(318.8,18) scale(1.37,1)" font-size="5.6" font-weight="bold" text-anchor="start" fill="#000" font-family="'Liberation Sans', Arial, sans-serif">SP-TCT</text>
<line x1="299.6" y1="22.35" x2="317.4" y2="22.35" stroke="#808000" stroke-width="1.6"/>
<text transform="translate(318.8,24.35) scale(1.37,1)" font-size="5.6" font-weight="bold" text-anchor="start" fill="#000" font-family="'Liberation Sans', Arial, sans-serif">BL-TCT</text>
<line x1="299.6" y1="28.7" x2="317.4" y2="28.7" stroke="#000080" stroke-width="1.6"/>
<text transform="translate(318.8,30.7) scale(1.37,1)" font-size="5.6" font-weight="bold" text-anchor="start" fill="#000" font-family="'Liberation Sans', Arial, sans-serif">HC-TCT</text>
<line x1="299.6" y1="35.05" x2="317.4" y2="35.05" stroke="#ff0080" stroke-width="1.6"/>
<text transform="translate(318.8,37.05) scale(1.37,1)" font-size="5.6" font-weight="bold" text-anchor="start" fill="#000" font-family="'Liberation Sans', Arial, sans-serif">BL-HC</text>
<line x1="299.6" y1="41.4" x2="317.4" y2="41.4" stroke="#008000" stroke-width="1.6"/>
<text transform="translate(318.8,43.4) scale(1.37,1)" font-size="5.6" font-weight="bold" text-anchor="start" fill="#000" font-family="'Liberation Sans', Arial, sans-serif">Two-Step Approach</text>
<text transform="translate(411.3,180) scale(1.08,1)" font-size="14.2" font-weight="normal" text-anchor="middle" fill="#000" font-family="'Liberation Serif', 'Times New Roman', serif" stroke="#000" stroke-width="0.28">(b)</text>
<rect x="24.9" y="187.9" width="243.1" height="132" fill="url(#gc)"/>
<line x1="108.8" y1="187.9" x2="108.8" y2="319.9" stroke="#d9d9d9" stroke-width="0.8"/>
<line x1="192.7" y1="187.9" x2="192.7" y2="319.9" stroke="#d9d9d9" stroke-width="0.8"/>
<line x1="24.9" y1="261.05" x2="268" y2="261.05" stroke="#d9d9d9" stroke-width="0.8"/>
<line x1="24.9" y1="246.35" x2="268" y2="246.35" stroke="#d9d9d9" stroke-width="0.8"/>
<path d="M24.9,320.35 L25.74,319.73 L26.58,319.11 L27.42,318.49 L28.26,317.86 L29.09,317.24 L29.93,316.61 L30.77,315.98 L31.61,315.35 L32.45,314.72 L33.29,314.08 L34.13,313.45 L34.97,312.81 L35.81,312.17 L36.65,311.53 L37.48,310.89 L38.32,310.23 L39.16,309.58 L40,308.93 L40.84,308.31 L41.68,307.71 L42.52,307.14 L43.36,306.59 L44.2,306.06 L45.04,305.53 L45.88,305.01 L46.71,304.47 L47.55,303.94 L48.39,303.41 L49.23,302.88 L50.07,302.35 L50.91,301.81 L51.75,301.25 L52.59,300.67 L53.43,300.07 L54.27,299.47 L55.1,298.86 L55.94,298.27 L56.78,297.67 L57.62,297.07 L58.46,296.48 L59.3,295.88 L60.14,295.28 L60.98,294.69 L61.82,294.09 L62.65,293.49 L63.49,292.9 L64.33,292.3 L65.17,291.7 L66.01,291.11 L66.85,290.51 L67.69,289.91 L68.53,289.32 L69.37,288.72 L70.21,288.12 L71.04,287.52 L71.88,286.93 L72.72,286.33 L73.56,285.73 L74.4,285.14 L75.24,284.54 L76.08,283.94 L76.92,283.35 L77.76,282.75 L78.6,282.15 L79.44,281.56 L80.27,280.96 L81.11,280.36 L81.95,279.77 L82.79,279.17 L83.63,278.57 L84.47,277.98 L85.31,277.38 L86.15,276.78 L86.99,276.19 L87.82,275.59 L88.66,274.99 L89.5,274.39 L90.34,273.8 L91.18,273.2 L92.02,272.6 L92.86,272.01 L93.7,271.41 L94.54,270.81 L95.38,270.22 L96.22,269.62 L97.05,269.02 L97.89,268.43 L98.73,267.83 L99.57,267.23 L100.41,266.64 L101.25,266.04 L102.09,265.44 L102.93,264.84 L103.77,264.23 L104.6,263.63 L105.44,263.06 L106.28,262.49 L107.12,261.94 L107.96,261.42 L108.8,260.96 L109.85,260.48 L110.9,260.08 L111.74,259.79 L112.58,259.64 L113.41,259.73 L114.25,259.93 L115.01,260.24 L115.76,260.67 L116.39,261.07 L117.02,261.55 L117.86,260.99 L118.7,260.43 L119.54,259.87 L120.38,259.31 L121.22,258.75 L122.06,258.19 L122.9,257.63 L123.73,257.07 L124.57,256.51 L125.41,255.95 L126.25,255.39 L127.09,254.83 L127.93,254.27 L128.77,253.71 L129.61,253.15 L130.45,252.59 L131.29,252.03 L132.12,251.47 L132.96,250.91 L133.8,250.35 L134.64,249.79 L135.48,249.23 L136.32,248.67 L137.16,248.11 L138,247.55 L138.84,246.99 L139.68,246.43 L140.51,245.87 L141.35,245.31 L142.19,244.75 L143.03,244.19 L143.87,243.63 L144.71,243.07 L145.55,242.51 L146.39,241.95 L147.23,241.39 L148.07,240.82 L148.9,240.26 L149.74,239.7 L150.58,239.15 L151.45,238.59 L152.33,238.05 L153.2,237.52 L154.07,236.98 L154.94,236.43 L156.05,235.73 L157.15,235.01 L158.25,234.3 L159.35,233.59 L160.45,232.88 L161.55,232.17 L162.65,231.45 L163.75,230.74 L164.85,230.03 L165.95,229.32 L167.05,228.61 L168.15,227.9 L169.25,227.19 L170.35,226.48 L171.45,225.76 L172.55,225.05 L173.65,224.34 L174.75,223.63 L175.85,222.92 L176.95,222.21 L178.05,221.5 L179.15,220.79 L180.25,220.08 L181.35,219.36 L182.45,218.65 L183.55,217.94 L184.65,217.23 L185.75,216.52 L186.85,215.81 L187.95,215.1 L189.05,214.39 L190.15,213.67 L191.25,212.96 L192.35,212.25 L193.45,211.54 L194.55,210.83 L195.65,210.12 L196.75,209.41 L197.85,208.7 L198.95,207.99 L200.05,207.27 L201.15,206.56 L202.25,205.85 L203.35,205.13 L204.45,204.43 L205.28,203.91 L206.12,203.39 L206.96,202.89 L207.8,202.38 L208.64,201.87 L209.48,201.33 L210.32,200.77 L211.16,200.25 L212,199.81 L212.94,199.39 L213.88,199 L214.83,198.69 L215.77,198.49 L216.61,198.38 L217.45,198.28 L218.29,198.22 L219.13,198.19 L220.11,198.4 L221.09,198.9 L222.06,199.52 L223.04,200.3 L224.02,201.34 L225,202.46 L226.05,203.71 L227.1,205.1 L228.27,206.73 L229.45,208.63 L230.45,210.73 L231.46,213.23 L232.47,215.96 L233.48,218.77 L234.36,221.29 L235.24,223.95 L236.12,226.74 L237,229.65 L237.89,232.8 L238.79,236.13 L239.68,239.5 L240.56,242.74 L241.43,245.97 L242.3,249.25 L243.17,252.62 L244.05,256.11 L245.04,260.23 L246.03,264.49 L247.02,268.89 L248.01,273.45 L249,278.16 L249.84,282.36 L250.67,286.77 L251.51,291.3 L252.35,295.86 L253.19,300.36 L254.14,305.35 L255.08,310.35 L256.02,315.35 L256.97,320.35" fill="none" stroke="#ff8000" stroke-width="1.8" stroke-linejoin="round" stroke-linecap="round" clip-path="url(#cpc)"/>
<path d="M24.9,320.35 L25.74,319.75 L26.58,319.16 L27.42,318.56 L28.26,317.96 L29.09,317.37 L29.93,316.77 L30.77,316.17 L31.61,315.58 L32.45,314.98 L33.29,314.38 L34.13,313.78 L34.97,313.19 L35.81,312.59 L36.65,311.99 L37.48,311.4 L38.32,310.8 L39.16,310.2 L40,309.61 L40.84,309.01 L41.68,308.41 L42.52,307.82 L43.36,307.22 L44.2,306.62 L45.04,306.03 L45.88,305.43 L46.71,304.83 L47.55,304.24 L48.39,303.64 L49.23,303.04 L50.07,302.45 L50.91,301.85 L51.75,301.25 L52.59,300.65 L53.43,300.06 L54.27,299.46 L55.1,298.86 L55.94,298.27 L56.78,297.67 L57.62,297.07 L58.46,296.48 L59.3,295.88 L60.14,295.28 L60.98,294.69 L61.82,294.09 L62.65,293.49 L63.49,292.9 L64.33,292.3 L65.17,291.7 L66.01,291.11 L66.85,290.51 L67.69,289.91 L68.53,289.32 L69.37,288.72 L70.21,288.12 L71.04,287.52 L71.88,286.93 L72.72,286.33 L73.56,285.73 L74.4,285.14 L75.24,284.54 L76.08,283.94 L76.92,283.35 L77.76,282.75 L78.6,282.15 L79.44,281.56 L80.27,280.96 L81.11,280.36 L81.95,279.77 L82.79,279.17 L83.63,278.57 L84.47,277.98 L85.31,277.38 L86.15,276.78 L86.99,276.19 L87.82,275.59 L88.66,274.99 L89.5,274.39 L90.34,273.8 L91.18,273.2 L92.02,272.6 L92.86,272.01 L93.7,271.41 L94.54,270.81 L95.38,270.22 L96.22,269.62 L97.05,269.02 L97.89,268.43 L98.73,267.83 L99.57,267.23 L100.41,266.64 L101.25,266.04 L102.09,265.44 L102.93,264.85 L103.77,264.25 L104.6,263.65 L105.44,263.06 L106.28,262.46 L107.12,261.86 L107.96,261.26 L108.8,260.67 L109.64,260.07 L110.48,259.47 L111.32,258.88 L112.16,258.28 L113,257.68 L113.83,257.09 L114.67,256.49 L115.51,255.89 L116.35,255.3 L117.19,254.7 L118.03,254.1 L118.87,253.51 L119.71,252.91 L120.55,252.31 L121.38,251.72 L122.22,251.12 L123.06,250.52 L123.9,249.91 L124.74,249.32 L125.58,248.73 L126.42,248.16 L127.26,247.6 L128.1,247.05 L128.94,246.5 L129.78,245.97 L130.61,245.44 L131.45,244.92 L132.29,244.41 L133.13,243.91 L134.01,243.39 L134.89,242.89 L135.77,242.38 L136.65,241.85 L137.72,241.16 L138.78,240.45 L139.84,239.79 L140.82,239.26 L141.8,238.77 L142.78,238.32 L143.62,237.94 L144.46,237.59 L145.3,237.37 L146.14,237.27 L146.97,237.22 L148.02,237.46 L149.07,237.88 L150.2,238.42 L151.34,238.77 L152.44,238.37 L153.55,237.49 L154.66,236.62 L155.76,235.9 L156.87,235.19 L157.98,234.47 L159.08,233.76 L160.19,233.04 L161.3,232.33 L162.4,231.61 L163.51,230.9 L164.61,230.18 L165.72,229.47 L166.83,228.75 L167.93,228.04 L169.04,227.32 L170.15,226.6 L171.25,225.89 L172.36,225.17 L173.47,224.46 L174.57,223.74 L175.68,223.03 L176.79,222.31 L177.89,221.6 L179,220.88 L180.1,220.17 L181.21,219.45 L182.32,218.74 L183.42,218.02 L184.53,217.31 L185.64,216.59 L186.74,215.87 L187.85,215.16 L188.96,214.44 L190.06,213.73 L191.17,213.01 L192.28,212.3 L193.38,211.58 L194.49,210.87 L195.59,210.15 L196.7,209.44 L197.81,208.72 L198.91,208.01 L200.02,207.29 L201.13,206.58 L202.23,205.86 L203.34,205.15 L204.45,204.43 L205.28,203.86 L206.12,203.28 L206.96,202.7 L207.8,202.13 L208.64,201.57 L209.48,201.03 L210.32,200.49 L211.16,199.98 L212,199.52 L212.84,199.09 L213.68,198.68 L214.51,198.32 L215.35,198.05 L216.33,197.77 L217.31,197.55 L218.29,197.46 L219.27,197.61 L220.25,198 L221.23,198.49 L222.06,199.06 L222.9,199.86 L223.74,200.78 L224.58,201.72 L225.42,202.66 L226.26,203.69 L227.1,204.81 L228.27,206.56 L229.45,208.63 L230.45,210.79 L231.46,213.28 L232.47,215.98 L233.48,218.77 L234.36,221.29 L235.24,223.95 L236.12,226.74 L237,229.65 L237.89,232.8 L238.79,236.13 L239.68,239.5 L240.56,242.74 L241.43,245.97 L242.3,249.25 L243.17,252.62 L244.05,256.11 L245.04,260.23 L246.03,264.49 L247.02,268.89 L248.01,273.45 L249,278.16 L249.84,282.36 L250.67,286.77 L251.51,291.3 L252.35,295.86 L253.19,300.36 L254.14,305.35 L255.08,310.35 L256.02,315.35 L256.97,320.35" fill="none" stroke="#008000" stroke-width="2.1" stroke-linejoin="round" stroke-linecap="round" clip-path="url(#cpc)"/>
<line x1="24.9" y1="187.9" x2="272" y2="187.9" stroke="#a8a4a8" stroke-width="1"/>
<line x1="268" y1="187.9" x2="268" y2="319.9" stroke="#555555" stroke-width="1.2"/>
<line x1="268" y1="319.85" x2="271.8" y2="319.85" stroke="#555555" stroke-width="0.9"/>
<line x1="268" y1="305.15" x2="271.8" y2="305.15" stroke="#555555" stroke-width="0.9"/>
<line x1="268" y1="290.45" x2="271.8" y2="290.45" stroke="#555555" stroke-width="0.9"/>
<line x1="268" y1="275.75" x2="271.8" y2="275.75" stroke="#555555" stroke-width="0.9"/>
<line x1="268" y1="261.05" x2="271.8" y2="261.05" stroke="#555555" stroke-width="0.9"/>
<line x1="268" y1="246.35" x2="271.8" y2="246.35" stroke="#555555" stroke-width="0.9"/>
<line x1="268" y1="231.65" x2="271.8" y2="231.65" stroke="#555555" stroke-width="0.9"/>
<line x1="268" y1="216.95" x2="271.8" y2="216.95" stroke="#555555" stroke-width="0.9"/>
<line x1="268" y1="202.25" x2="271.8" y2="202.25" stroke="#555555" stroke-width="0.9"/>
<line x1="24.9" y1="185.4" x2="24.9" y2="187.9" stroke="#3a3a3a" stroke-width="0.9"/>
<line x1="108.8" y1="185.4" x2="108.8" y2="187.9" stroke="#3a3a3a" stroke-width="0.9"/>
<line x1="192.7" y1="185.4" x2="192.7" y2="187.9" stroke="#3a3a3a" stroke-width="0.9"/>
<line x1="24.9" y1="187.9" x2="24.9" y2="322.7" stroke="#8c8490" stroke-width="1.1"/>
<line x1="21.1" y1="319.85" x2="24.9" y2="319.85" stroke="#3a3a3a" stroke-width="0.9"/>
<line x1="21.1" y1="305.15" x2="24.9" y2="305.15" stroke="#3a3a3a" stroke-width="0.9"/>
<line x1="21.1" y1="290.45" x2="24.9" y2="290.45" stroke="#3a3a3a" stroke-width="0.9"/>
<line x1="21.1" y1="275.75" x2="24.9" y2="275.75" stroke="#3a3a3a" stroke-width="0.9"/>
<line x1="21.1" y1="261.05" x2="24.9" y2="261.05" stroke="#3a3a3a" stroke-width="0.9"/>
<line x1="21.1" y1="246.35" x2="24.9" y2="246.35" stroke="#3a3a3a" stroke-width="0.9"/>
<line x1="21.1" y1="231.65" x2="24.9" y2="231.65" stroke="#3a3a3a" stroke-width="0.9"/>
<line x1="21.1" y1="216.95" x2="24.9" y2="216.95" stroke="#3a3a3a" stroke-width="0.9"/>
<line x1="21.1" y1="202.25" x2="24.9" y2="202.25" stroke="#3a3a3a" stroke-width="0.9"/>
<line x1="21.1" y1="187.55" x2="24.9" y2="187.55" stroke="#3a3a3a" stroke-width="0.9"/>
<line x1="21.1" y1="319.9" x2="271.8" y2="319.9" stroke="#8f8f8f" stroke-width="1"/>
<line x1="24.9" y1="319.9" x2="24.9" y2="322.9" stroke="#3a3a3a" stroke-width="0.9"/>
<line x1="108.8" y1="319.9" x2="108.8" y2="322.9" stroke="#3a3a3a" stroke-width="0.9"/>
<line x1="192.7" y1="319.9" x2="192.7" y2="322.9" stroke="#3a3a3a" stroke-width="0.9"/>
<text transform="translate(16.5,321.95) scale(1.38,1)" font-size="6" font-weight="bold" text-anchor="middle" fill="#000" font-family="'Liberation Sans', Arial, sans-serif">0</text>
<text transform="translate(16.5,307.25) scale(1.38,1)" font-size="6" font-weight="bold" text-anchor="middle" fill="#000" font-family="'Liberation Sans', Arial, sans-serif">1</text>
<text transform="translate(16.5,292.55) scale(1.38,1)" font-size="6" font-weight="bold" text-anchor="middle" fill="#000" font-family="'Liberation Sans', Arial, sans-serif">2</text>
<text transform="translate(16.5,277.85) scale(1.38,1)" font-size="6" font-weight="bold" text-anchor="middle" fill="#000" font-family="'Liberation Sans', Arial, sans-serif">3</text>
<text transform="translate(16.5,263.15) scale(1.38,1)" font-size="6" font-weight="bold" text-anchor="middle" fill="#000" font-family="'Liberation Sans', Arial, sans-serif">4</text>
<text transform="translate(16.5,248.45) scale(1.38,1)" font-size="6" font-weight="bold" text-anchor="middle" fill="#000" font-family="'Liberation Sans', Arial, sans-serif">5</text>
<text transform="translate(16.5,233.75) scale(1.38,1)" font-size="6" font-weight="bold" text-anchor="middle" fill="#000" font-family="'Liberation Sans', Arial, sans-serif">6</text>
<text transform="translate(16.5,219.05) scale(1.38,1)" font-size="6" font-weight="bold" text-anchor="middle" fill="#000" font-family="'Liberation Sans', Arial, sans-serif">7</text>
<text transform="translate(16.5,204.35) scale(1.38,1)" font-size="6" font-weight="bold" text-anchor="middle" fill="#000" font-family="'Liberation Sans', Arial, sans-serif">8</text>
<text transform="translate(16.5,189.65) scale(1.38,1)" font-size="6" font-weight="bold" text-anchor="middle" fill="#000" font-family="'Liberation Sans', Arial, sans-serif">9</text>
<text transform="translate(24.9,328.8) scale(1.3,1)" font-size="6" font-weight="bold" text-anchor="middle" fill="#000" font-family="'Liberation Sans', Arial, sans-serif">0</text>
<text transform="translate(108.8,328.8) scale(1.3,1)" font-size="6" font-weight="bold" text-anchor="middle" fill="#000" font-family="'Liberation Sans', Arial, sans-serif">100</text>
<text transform="translate(192.7,328.8) scale(1.3,1)" font-size="6" font-weight="bold" text-anchor="middle" fill="#000" font-family="'Liberation Sans', Arial, sans-serif">200</text>
<text transform="translate(127.6,337.6) scale(1.3,1)" font-size="5.8" font-weight="bold" text-anchor="start" fill="#000" font-family="'Liberation Sans', Arial, sans-serif">Voltage (V)</text>
<text transform="translate(10.4,253.9) rotate(-90)" font-size="5.3" font-weight="bold" text-anchor="middle" fill="#000" font-family="'Liberation Sans', Arial, sans-serif">Power (kW)</text>
<rect x="27.9" y="189" width="90.8" height="13.3" fill="#ffffff" stroke="#555" stroke-width="0.8"/>
<line x1="28.4" y1="192.6" x2="46.7" y2="192.6" stroke="#ff8000" stroke-width="1.6"/>
<text transform="translate(47.9,194.55) scale(1.37,1)" font-size="5.5" font-weight="bold" text-anchor="start" fill="#000" font-family="'Liberation Sans', Arial, sans-serif">ER</text>
<line x1="28.4" y1="199" x2="46.7" y2="199" stroke="#008000" stroke-width="1.6"/>
<text transform="translate(47.9,200.95) scale(1.37,1)" font-size="5.5" font-weight="bold" text-anchor="start" fill="#000" font-family="'Liberation Sans', Arial, sans-serif">Two-Step Approach</text>
<text transform="translate(137.9,353.9) scale(1.08,1)" font-size="14.2" font-weight="normal" text-anchor="middle" fill="#000" font-family="'Liberation Serif', 'Times New Roman', serif" stroke="#000" stroke-width="0.28">(c)</text>
<rect x="297.7" y="186.9" width="245.4" height="132.9" fill="#ffffff"/>
<line x1="338.6" y1="186.9" x2="338.6" y2="319.8" stroke="#d9d9d9" stroke-width="0.8"/>
<line x1="420.4" y1="186.9" x2="420.4" y2="319.8" stroke="#d9d9d9" stroke-width="0.8"/>
<line x1="501.9" y1="186.9" x2="501.9" y2="319.8" stroke="#d9d9d9" stroke-width="0.8"/>
<line x1="297.7" y1="290.35" x2="543.1" y2="290.35" stroke="#d9d9d9" stroke-width="0.8"/>
<line x1="297.7" y1="260.95" x2="543.1" y2="260.95" stroke="#d9d9d9" stroke-width="0.8"/>
<line x1="297.7" y1="231.55" x2="543.1" y2="231.55" stroke="#d9d9d9" stroke-width="0.8"/>
<line x1="297.7" y1="202.15" x2="543.1" y2="202.15" stroke="#d9d9d9" stroke-width="0.8"/>
<rect x="305.5" y="215.23" width="6.55" height="104.52" fill="#ff0000" stroke="#222" stroke-width="0.5"/>
<rect x="312.05" y="209.21" width="6.55" height="110.54" fill="#0000ff" stroke="#222" stroke-width="0.5"/>
<rect x="318.6" y="208.91" width="6.55" height="110.84" fill="#ff00ff" stroke="#222" stroke-width="0.5"/>
<rect x="325.15" y="206.12" width="6.55" height="113.63" fill="#800000" stroke="#222" stroke-width="0.5"/>
<rect x="331.7" y="206.56" width="6.55" height="113.19" fill="#00ffff" stroke="#222" stroke-width="0.5"/>
<rect x="338.25" y="206.56" width="6.55" height="113.19" fill="#808000" stroke="#222" stroke-width="0.5"/>
<rect x="344.8" y="206.56" width="6.55" height="113.19" fill="#000080" stroke="#222" stroke-width="0.5"/>
<rect x="351.35" y="208.32" width="6.55" height="111.43" fill="#ff0080" stroke="#222" stroke-width="0.5"/>
<rect x="357.9" y="197.89" width="6.55" height="121.86" fill="#ff8000" stroke="#222" stroke-width="0.5"/>
<rect x="364.45" y="196.12" width="6.55" height="123.63" fill="#008000" stroke="#222" stroke-width="0.5"/>
<rect x="387.3" y="300.05" width="6.55" height="19.7" fill="#ff0000" stroke="#222" stroke-width="0.5"/>
<rect x="393.85" y="306.52" width="6.55" height="13.23" fill="#0000ff" stroke="#222" stroke-width="0.5"/>
<rect x="400.4" y="306.81" width="6.55" height="12.94" fill="#ff00ff" stroke="#222" stroke-width="0.5"/>
<rect x="406.95" y="309.17" width="6.55" height="10.58" fill="#800000" stroke="#222" stroke-width="0.5"/>
<rect x="413.5" y="308.58" width="6.55" height="11.17" fill="#00ffff" stroke="#222" stroke-width="0.5"/>
<rect x="420.05" y="308.58" width="6.55" height="11.17" fill="#808000" stroke="#222" stroke-width="0.5"/>
<rect x="426.6" y="309.17" width="6.55" height="10.58" fill="#000080" stroke="#222" stroke-width="0.5"/>
<rect x="433.15" y="307.4" width="6.55" height="12.35" fill="#ff0080" stroke="#222" stroke-width="0.5"/>
<rect x="439.7" y="317.69" width="6.55" height="2.06" fill="#ff8000" stroke="#222" stroke-width="0.5"/>
<rect x="446.25" y="319.16" width="6.55" height="0.59" fill="#008000" stroke="#222" stroke-width="0.5"/>
<rect x="469.1" y="283.59" width="6.55" height="36.16" fill="#ff0000" stroke="#222" stroke-width="0.5"/>
<rect x="475.65" y="290.06" width="6.55" height="29.69" fill="#0000ff" stroke="#222" stroke-width="0.5"/>
<rect x="482.2" y="290.35" width="6.55" height="29.4" fill="#ff00ff" stroke="#222" stroke-width="0.5"/>
<rect x="488.75" y="293.14" width="6.55" height="26.61" fill="#800000" stroke="#222" stroke-width="0.5"/>
<rect x="495.3" y="292.41" width="6.55" height="27.34" fill="#00ffff" stroke="#222" stroke-width="0.5"/>
<rect x="501.85" y="292.41" width="6.55" height="27.34" fill="#808000" stroke="#222" stroke-width="0.5"/>
<rect x="508.4" y="292.7" width="6.55" height="27.05" fill="#000080" stroke="#222" stroke-width="0.5"/>
<rect x="514.95" y="290.94" width="6.55" height="28.81" fill="#ff0080" stroke="#222" stroke-width="0.5"/>
<rect x="521.5" y="301.52" width="6.55" height="18.23" fill="#ff8000" stroke="#222" stroke-width="0.5"/>
<rect x="528.05" y="303.14" width="6.55" height="16.61" fill="#008000" stroke="#222" stroke-width="0.5"/>
<line x1="297.7" y1="186.9" x2="547.1" y2="186.9" stroke="#8e8e8e" stroke-width="1.1"/>
<line x1="543.1" y1="186.9" x2="543.1" y2="319.8" stroke="#8a8a8a" stroke-width="1"/>
<line x1="543.1" y1="305.05" x2="546.6" y2="305.05" stroke="#8a8a8a" stroke-width="0.9"/>
<line x1="543.1" y1="290.35" x2="546.6" y2="290.35" stroke="#8a8a8a" stroke-width="0.9"/>
<line x1="543.1" y1="275.65" x2="546.6" y2="275.65" stroke="#8a8a8a" stroke-width="0.9"/>
<line x1="543.1" y1="260.95" x2="546.6" y2="260.95" stroke="#8a8a8a" stroke-width="0.9"/>
<line x1="543.1" y1="246.25" x2="546.6" y2="246.25" stroke="#8a8a8a" stroke-width="0.9"/>
<line x1="543.1" y1="231.55" x2="546.6" y2="231.55" stroke="#8a8a8a" stroke-width="0.9"/>
<line x1="543.1" y1="216.85" x2="546.6" y2="216.85" stroke="#8a8a8a" stroke-width="0.9"/>
<line x1="543.1" y1="202.15" x2="546.6" y2="202.15" stroke="#8a8a8a" stroke-width="0.9"/>
<line x1="338.6" y1="184.4" x2="338.6" y2="186.9" stroke="#555" stroke-width="0.9"/>
<line x1="379.5" y1="184.4" x2="379.5" y2="186.9" stroke="#555" stroke-width="0.9"/>
<line x1="420.4" y1="184.4" x2="420.4" y2="186.9" stroke="#555" stroke-width="0.9"/>
<line x1="461.8" y1="184.4" x2="461.8" y2="186.9" stroke="#555" stroke-width="0.9"/>
<line x1="501.9" y1="184.4" x2="501.9" y2="186.9" stroke="#555" stroke-width="0.9"/>
<line x1="297.7" y1="184.4" x2="297.7" y2="322.6" stroke="#222" stroke-width="1.1"/>
<line x1="293.9" y1="319.75" x2="297.7" y2="319.75" stroke="#333" stroke-width="0.9"/>
<line x1="293.9" y1="305.05" x2="297.7" y2="305.05" stroke="#333" stroke-width="0.9"/>
<line x1="293.9" y1="290.35" x2="297.7" y2="290.35" stroke="#333" stroke-width="0.9"/>
<line x1="293.9" y1="275.65" x2="297.7" y2="275.65" stroke="#333" stroke-width="0.9"/>
<line x1="293.9" y1="260.95" x2="297.7" y2="260.95" stroke="#333" stroke-width="0.9"/>
<line x1="293.9" y1="246.25" x2="297.7" y2="246.25" stroke="#333" stroke-width="0.9"/>
<line x1="293.9" y1="231.55" x2="297.7" y2="231.55" stroke="#333" stroke-width="0.9"/>
<line x1="293.9" y1="216.85" x2="297.7" y2="216.85" stroke="#333" stroke-width="0.9"/>
<line x1="293.9" y1="202.15" x2="297.7" y2="202.15" stroke="#333" stroke-width="0.9"/>
<line x1="293.9" y1="187.45" x2="297.7" y2="187.45" stroke="#333" stroke-width="0.9"/>
<line x1="293.9" y1="319.8" x2="543.6" y2="319.8" stroke="#8a8a8a" stroke-width="1"/>
<line x1="338.6" y1="319.8" x2="338.6" y2="322.8" stroke="#555" stroke-width="0.9"/>
<line x1="379.5" y1="319.8" x2="379.5" y2="322.8" stroke="#555" stroke-width="0.9"/>
<line x1="420.4" y1="319.8" x2="420.4" y2="322.8" stroke="#555" stroke-width="0.9"/>
<line x1="461.8" y1="319.8" x2="461.8" y2="322.8" stroke="#555" stroke-width="0.9"/>
<line x1="501.9" y1="319.8" x2="501.9" y2="322.8" stroke="#555" stroke-width="0.9"/>
<text transform="translate(288.8,321.85) scale(1.38,1)" font-size="6" font-weight="bold" text-anchor="middle" fill="#000" font-family="'Liberation Sans', Arial, sans-serif">0</text>
<text transform="translate(288.8,292.45) scale(1.38,1)" font-size="6" font-weight="bold" text-anchor="middle" fill="#000" font-family="'Liberation Sans', Arial, sans-serif">2</text>
<text transform="translate(288.8,263.05) scale(1.38,1)" font-size="6" font-weight="bold" text-anchor="middle" fill="#000" font-family="'Liberation Sans', Arial, sans-serif">4</text>
<text transform="translate(288.8,233.65) scale(1.38,1)" font-size="6" font-weight="bold" text-anchor="middle" fill="#000" font-family="'Liberation Sans', Arial, sans-serif">6</text>
<text transform="translate(288.8,204.25) scale(1.38,1)" font-size="6" font-weight="bold" text-anchor="middle" fill="#000" font-family="'Liberation Sans', Arial, sans-serif">8</text>
<text transform="translate(338.7,329.2) scale(1.27,1)" font-size="5.9" font-weight="bold" text-anchor="middle" fill="#000" font-family="'Liberation Sans', Arial, sans-serif">Power Output</text>
<text transform="translate(420.3,329.1) scale(1.24,1)" font-size="5.9" font-weight="bold" text-anchor="middle" fill="#000" font-family="'Liberation Sans', Arial, sans-serif">Mismatch Loss</text>
<text transform="translate(501.9,329.1) scale(1.24,1)" font-size="5.9" font-weight="bold" text-anchor="middle" fill="#000" font-family="'Liberation Sans', Arial, sans-serif">Power Reduction</text>
<text transform="translate(419.9,337.6) scale(1.28,1)" font-size="5.7" font-weight="bold" text-anchor="middle" fill="#000" font-family="'Liberation Sans', Arial, sans-serif">Parameters</text>
<text transform="translate(282.5,253.4) rotate(-90)" font-size="5.3" font-weight="bold" text-anchor="middle" fill="#000" font-family="'Liberation Sans', Arial, sans-serif">Power (kW)</text>
<rect x="460" y="188" width="80.9" height="56.3" fill="#ffffff" stroke="#8a8a8a" stroke-width="0.8"/>
<rect x="461.1" y="189.75" width="14.4" height="4.4" fill="#ff0000" stroke="#333" stroke-width="0.4"/>
<text transform="translate(478,194.05) scale(1.29,1)" font-size="5.1" font-weight="bold" text-anchor="start" fill="#000" font-family="'Liberation Sans', Arial, sans-serif">Series-Parallel</text>
<rect x="461.1" y="195.32" width="14.4" height="4.4" fill="#0000ff" stroke="#333" stroke-width="0.4"/>
<text transform="translate(478,199.62) scale(1.29,1)" font-size="5.1" font-weight="bold" text-anchor="start" fill="#000" font-family="'Liberation Sans', Arial, sans-serif">Bridge-Linked</text>
<rect x="461.1" y="200.89" width="14.4" height="4.4" fill="#ff00ff" stroke="#333" stroke-width="0.4"/>
<text transform="translate(478,205.19) scale(1.29,1)" font-size="5.1" font-weight="bold" text-anchor="start" fill="#000" font-family="'Liberation Sans', Arial, sans-serif">Honeycomb</text>
<rect x="461.1" y="206.46" width="14.4" height="4.4" fill="#800000" stroke="#333" stroke-width="0.4"/>
<text transform="translate(478,210.76) scale(1.29,1)" font-size="5.1" font-weight="bold" text-anchor="start" fill="#000" font-family="'Liberation Sans', Arial, sans-serif">Total-Cross-Tied</text>
<rect x="461.1" y="212.03" width="14.4" height="4.4" fill="#00ffff" stroke="#333" stroke-width="0.4"/>
<text transform="translate(478,216.33) scale(1.29,1)" font-size="5.1" font-weight="bold" text-anchor="start" fill="#000" font-family="'Liberation Sans', Arial, sans-serif">SP-TCT</text>
<rect x="461.1" y="217.6" width="14.4" height="4.4" fill="#808000" stroke="#333" stroke-width="0.4"/>
<text transform="translate(478,221.9) scale(1.29,1)" font-size="5.1" font-weight="bold" text-anchor="start" fill="#000" font-family="'Liberation Sans', Arial, sans-serif">BL-TCT</text>
<rect x="461.1" y="223.17" width="14.4" height="4.4" fill="#000080" stroke="#333" stroke-width="0.4"/>
<text transform="translate(478,227.47) scale(1.29,1)" font-size="5.1" font-weight="bold" text-anchor="start" fill="#000" font-family="'Liberation Sans', Arial, sans-serif">HC-TCT</text>
<rect x="461.1" y="228.74" width="14.4" height="4.4" fill="#ff0080" stroke="#333" stroke-width="0.4"/>
<text transform="translate(478,233.04) scale(1.29,1)" font-size="5.1" font-weight="bold" text-anchor="start" fill="#000" font-family="'Liberation Sans', Arial, sans-serif">BL-HC</text>
<rect x="461.1" y="234.31" width="14.4" height="4.4" fill="#ff8000" stroke="#333" stroke-width="0.4"/>
<text transform="translate(478,238.61) scale(1.29,1)" font-size="5.1" font-weight="bold" text-anchor="start" fill="#000" font-family="'Liberation Sans', Arial, sans-serif">ER</text>
<rect x="461.1" y="239.88" width="14.4" height="4.4" fill="#008000" stroke="#333" stroke-width="0.4"/>
<text transform="translate(478,244.18) scale(1.29,1)" font-size="5.1" font-weight="bold" text-anchor="start" fill="#000" font-family="'Liberation Sans', Arial, sans-serif">Two-Step Approach</text>
<text transform="translate(411.4,353.9) scale(1.08,1)" font-size="14.2" font-weight="normal" text-anchor="middle" fill="#000" font-family="'Liberation Serif', 'Times New Roman', serif" stroke="#000" stroke-width="0.28">(d)</text></svg>
</body></html>
